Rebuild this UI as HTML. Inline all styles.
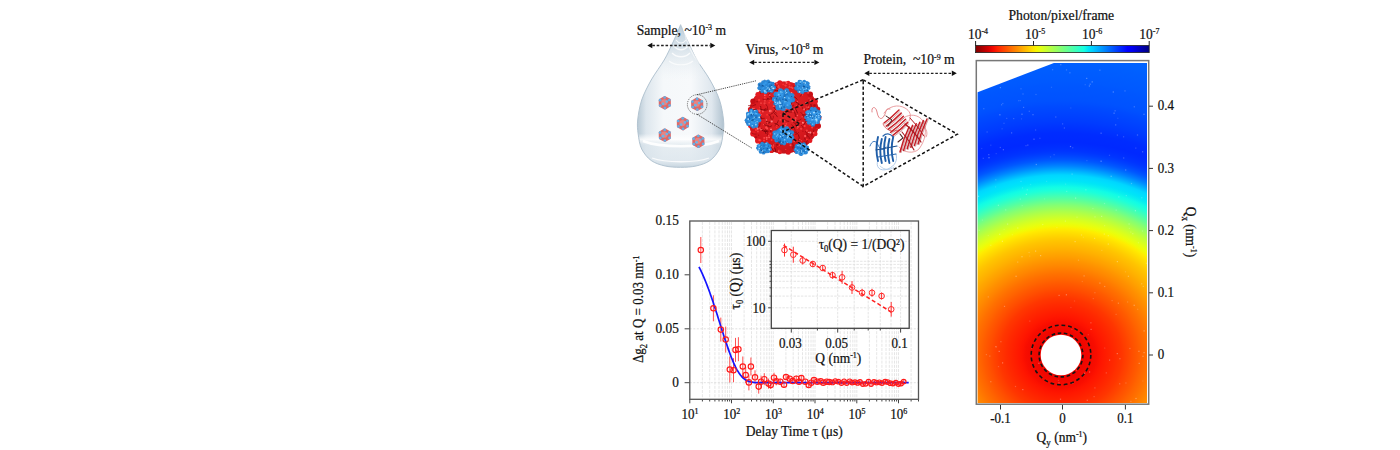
<!DOCTYPE html>
<html><head><meta charset="utf-8"><title>XPCS figure</title>
<style>html,body{margin:0;padding:0;background:#fff;}body{width:1400px;height:450px;overflow:hidden;}
svg{display:block;} text{font-family:"Liberation Serif", "Times New Roman", serif;fill:#111;stroke:#111;stroke-width:0.22px;}</style></head>
<body><svg width="1400" height="450" viewBox="0 0 1400 450">
<defs>
<linearGradient id="cbar" x1="0" y1="0" x2="1" y2="0"><stop offset="0.000" stop-color="#800000"/><stop offset="0.025" stop-color="#9c0000"/><stop offset="0.050" stop-color="#b90000"/><stop offset="0.075" stop-color="#d60000"/><stop offset="0.100" stop-color="#f30900"/><stop offset="0.125" stop-color="#ff2100"/><stop offset="0.150" stop-color="#ff3900"/><stop offset="0.175" stop-color="#ff5000"/><stop offset="0.200" stop-color="#ff6800"/><stop offset="0.225" stop-color="#ff8000"/><stop offset="0.250" stop-color="#ff9700"/><stop offset="0.275" stop-color="#ffaf00"/><stop offset="0.300" stop-color="#ffc600"/><stop offset="0.325" stop-color="#ffde00"/><stop offset="0.350" stop-color="#f7f600"/><stop offset="0.375" stop-color="#e2ff15"/><stop offset="0.400" stop-color="#ceff29"/><stop offset="0.425" stop-color="#b9ff3e"/><stop offset="0.450" stop-color="#a5ff52"/><stop offset="0.475" stop-color="#90ff67"/><stop offset="0.500" stop-color="#7bff7b"/><stop offset="0.525" stop-color="#67ff90"/><stop offset="0.550" stop-color="#52ffa5"/><stop offset="0.575" stop-color="#3effb9"/><stop offset="0.600" stop-color="#29ffce"/><stop offset="0.625" stop-color="#15ffe2"/><stop offset="0.650" stop-color="#00e5f7"/><stop offset="0.675" stop-color="#00ccff"/><stop offset="0.700" stop-color="#00b3ff"/><stop offset="0.725" stop-color="#0099ff"/><stop offset="0.750" stop-color="#0080ff"/><stop offset="0.775" stop-color="#0066ff"/><stop offset="0.800" stop-color="#004cff"/><stop offset="0.825" stop-color="#0033ff"/><stop offset="0.850" stop-color="#001aff"/><stop offset="0.875" stop-color="#0000ff"/><stop offset="0.900" stop-color="#0000f3"/><stop offset="0.925" stop-color="#0000d6"/><stop offset="0.950" stop-color="#0000b9"/><stop offset="0.975" stop-color="#00009c"/><stop offset="1.000" stop-color="#000080"/></linearGradient>
<radialGradient id="hmg" gradientUnits="userSpaceOnUse" cx="1061" cy="355" r="300.0" gradientTransform="translate(1061 355) scale(1.07 1) translate(-1061 -355)"><stop offset="0.0000" stop-color="#ee0500"/><stop offset="0.0100" stop-color="#ee0500"/><stop offset="0.0200" stop-color="#ee0500"/><stop offset="0.0300" stop-color="#ee0500"/><stop offset="0.0400" stop-color="#ee0500"/><stop offset="0.0500" stop-color="#ee0500"/><stop offset="0.0600" stop-color="#ee0500"/><stop offset="0.0700" stop-color="#ee0500"/><stop offset="0.0800" stop-color="#f00600"/><stop offset="0.0900" stop-color="#f20900"/><stop offset="0.1000" stop-color="#f50b00"/><stop offset="0.1100" stop-color="#f80d00"/><stop offset="0.1200" stop-color="#fd1200"/><stop offset="0.1300" stop-color="#ff1700"/><stop offset="0.1400" stop-color="#ff1c00"/><stop offset="0.1500" stop-color="#ff2100"/><stop offset="0.1600" stop-color="#ff2600"/><stop offset="0.1700" stop-color="#ff2b00"/><stop offset="0.1800" stop-color="#ff3100"/><stop offset="0.1900" stop-color="#ff3600"/><stop offset="0.2000" stop-color="#ff3e00"/><stop offset="0.2100" stop-color="#ff4500"/><stop offset="0.2200" stop-color="#ff4d00"/><stop offset="0.2300" stop-color="#ff5400"/><stop offset="0.2400" stop-color="#ff5b00"/><stop offset="0.2500" stop-color="#ff6300"/><stop offset="0.2600" stop-color="#ff6a00"/><stop offset="0.2700" stop-color="#ff7100"/><stop offset="0.2800" stop-color="#ff7900"/><stop offset="0.2900" stop-color="#ff8100"/><stop offset="0.3000" stop-color="#ff8900"/><stop offset="0.3100" stop-color="#ff9000"/><stop offset="0.3200" stop-color="#ff9800"/><stop offset="0.3300" stop-color="#ffa000"/><stop offset="0.3400" stop-color="#ffa700"/><stop offset="0.3500" stop-color="#ffaf00"/><stop offset="0.3600" stop-color="#ffb600"/><stop offset="0.3700" stop-color="#ffbd00"/><stop offset="0.3800" stop-color="#ffc400"/><stop offset="0.3900" stop-color="#ffcd00"/><stop offset="0.4000" stop-color="#ffd700"/><stop offset="0.4100" stop-color="#ffe100"/><stop offset="0.4200" stop-color="#ffec00"/><stop offset="0.4300" stop-color="#f3fa04"/><stop offset="0.4400" stop-color="#e6ff10"/><stop offset="0.4500" stop-color="#d9ff1e"/><stop offset="0.4600" stop-color="#caff2d"/><stop offset="0.4700" stop-color="#baff3d"/><stop offset="0.4800" stop-color="#a9ff4e"/><stop offset="0.4900" stop-color="#96ff61"/><stop offset="0.5000" stop-color="#84ff73"/><stop offset="0.5100" stop-color="#6eff89"/><stop offset="0.5200" stop-color="#58ff9e"/><stop offset="0.5300" stop-color="#44ffb3"/><stop offset="0.5400" stop-color="#30ffc7"/><stop offset="0.5500" stop-color="#1dffda"/><stop offset="0.5600" stop-color="#12fce5"/><stop offset="0.5700" stop-color="#08efef"/><stop offset="0.5800" stop-color="#00e5f7"/><stop offset="0.5900" stop-color="#00defd"/><stop offset="0.6000" stop-color="#00d6ff"/><stop offset="0.6100" stop-color="#00bbff"/><stop offset="0.6200" stop-color="#009fff"/><stop offset="0.6300" stop-color="#0084ff"/><stop offset="0.6400" stop-color="#006dff"/><stop offset="0.6500" stop-color="#0058ff"/><stop offset="0.6600" stop-color="#004aff"/><stop offset="0.6700" stop-color="#003eff"/><stop offset="0.6800" stop-color="#0035ff"/><stop offset="0.6900" stop-color="#0030ff"/><stop offset="0.7000" stop-color="#002cff"/><stop offset="0.7100" stop-color="#0029ff"/><stop offset="0.7200" stop-color="#002aff"/><stop offset="0.7300" stop-color="#002bff"/><stop offset="0.7400" stop-color="#002cff"/><stop offset="0.7500" stop-color="#0030ff"/><stop offset="0.7600" stop-color="#0034ff"/><stop offset="0.7700" stop-color="#0038ff"/><stop offset="0.7800" stop-color="#003cff"/><stop offset="0.7900" stop-color="#003fff"/><stop offset="0.8000" stop-color="#0042ff"/><stop offset="0.8100" stop-color="#0045ff"/><stop offset="0.8200" stop-color="#0048ff"/><stop offset="0.8300" stop-color="#004bff"/><stop offset="0.8400" stop-color="#004fff"/><stop offset="0.8500" stop-color="#0052ff"/><stop offset="0.8600" stop-color="#0053ff"/><stop offset="0.8700" stop-color="#0054ff"/><stop offset="0.8800" stop-color="#0055ff"/><stop offset="0.8900" stop-color="#0056ff"/><stop offset="0.9000" stop-color="#0057ff"/><stop offset="0.9100" stop-color="#0059ff"/><stop offset="0.9200" stop-color="#005aff"/><stop offset="0.9300" stop-color="#005bff"/><stop offset="0.9400" stop-color="#005cff"/><stop offset="0.9500" stop-color="#005dff"/><stop offset="0.9600" stop-color="#005eff"/><stop offset="0.9700" stop-color="#005fff"/><stop offset="0.9800" stop-color="#0061ff"/><stop offset="0.9900" stop-color="#0062ff"/><stop offset="1.0000" stop-color="#0063ff"/></radialGradient>
<clipPath id="hmclip"><polygon points="977.6,92.2 1053.9,63 1147,63 1147,403 977.6,403"/></clipPath>
<linearGradient id="drop" x1="0" y1="0" x2="1" y2="0">
 <stop offset="0" stop-color="#b8c9d5"/><stop offset="0.1" stop-color="#dde6ed"/>
 <stop offset="0.3" stop-color="#f5f8fa"/><stop offset="0.62" stop-color="#f7f9fb"/>
 <stop offset="0.86" stop-color="#dfe7ee"/><stop offset="1" stop-color="#b1c3d0"/>
</linearGradient>
<linearGradient id="dropt" gradientUnits="userSpaceOnUse" x1="0" y1="25" x2="0" y2="80">
 <stop offset="0" stop-color="#b4c8d6" stop-opacity="0.9"/><stop offset="0.45" stop-color="#c9d8e2" stop-opacity="0.6"/>
 <stop offset="1" stop-color="#e8eef2" stop-opacity="0"/>
</linearGradient>
<linearGradient id="dropv" gradientUnits="userSpaceOnUse" x1="0" y1="25" x2="0" y2="168">
 <stop offset="0" stop-color="#ffffff" stop-opacity="0"/><stop offset="0.76" stop-color="#ffffff" stop-opacity="0"/>
 <stop offset="0.8" stop-color="#ffffff" stop-opacity="0.8"/><stop offset="0.84" stop-color="#dbe5ec" stop-opacity="0.6"/>
 <stop offset="0.95" stop-color="#d7e2ea" stop-opacity="0.7"/><stop offset="1" stop-color="#c3d2dd" stop-opacity="1"/>
</linearGradient>
<radialGradient id="vir" cx="0.45" cy="0.4" r="0.6">
 <stop offset="0" stop-color="#e83a3a"/><stop offset="0.7" stop-color="#d41f22"/><stop offset="1" stop-color="#b0141a"/>
</radialGradient>
<radialGradient id="vblue" cx="0.4" cy="0.35" r="0.65">
 <stop offset="0" stop-color="#5fb0ea"/><stop offset="0.6" stop-color="#2f86cf"/><stop offset="1" stop-color="#1f66ad"/>
</radialGradient>
<marker id="ah" viewBox="0 0 10 10" refX="9" refY="5" markerWidth="5" markerHeight="5" orient="auto-start-reverse" markerUnits="userSpaceOnUse"><path d="M0,0 L10,5 L0,10 z" fill="#111"/></marker>
</defs>
<path d="M680.6,24.7 C680.6,24.7 683.0,30.6 684.5,34.0 C686.0,37.4 687.4,40.7 689.5,45.0 C691.6,49.3 693.6,54.2 697.0,60.0 C700.4,65.8 706.2,73.3 710.0,80.0 C713.8,86.7 717.2,93.3 719.5,100.0 C721.8,106.7 722.9,114.3 723.5,120.0 C724.1,125.7 723.7,129.2 723.0,134.0 C722.3,138.8 721.7,144.6 719.5,149.0 C717.3,153.4 713.9,157.7 710.0,160.5 C706.1,163.3 700.9,164.9 696.0,166.0 C691.1,167.1 685.7,167.3 680.6,167.3 C675.5,167.3 670.1,167.1 665.2,166.0 C660.3,164.9 655.1,163.3 651.2,160.5 C647.3,157.7 643.9,153.4 641.7,149.0 C639.5,144.6 638.9,138.8 638.2,134.0 C637.5,129.2 637.1,125.7 637.7,120.0 C638.3,114.3 639.5,106.7 641.7,100.0 C644.0,93.3 647.5,86.7 651.2,80.0 C655.0,73.3 660.8,65.8 664.2,60.0 C667.6,54.2 669.6,49.3 671.7,45.0 C673.8,40.7 675.2,37.4 676.7,34.0 C678.2,30.6 680.6,24.7 680.6,24.7 Z" fill="url(#drop)"/>
<path d="M680.6,24.7 C680.6,24.7 683.0,30.6 684.5,34.0 C686.0,37.4 687.4,40.7 689.5,45.0 C691.6,49.3 693.6,54.2 697.0,60.0 C700.4,65.8 706.2,73.3 710.0,80.0 C713.8,86.7 717.2,93.3 719.5,100.0 C721.8,106.7 722.9,114.3 723.5,120.0 C724.1,125.7 723.7,129.2 723.0,134.0 C722.3,138.8 721.7,144.6 719.5,149.0 C717.3,153.4 713.9,157.7 710.0,160.5 C706.1,163.3 700.9,164.9 696.0,166.0 C691.1,167.1 685.7,167.3 680.6,167.3 C675.5,167.3 670.1,167.1 665.2,166.0 C660.3,164.9 655.1,163.3 651.2,160.5 C647.3,157.7 643.9,153.4 641.7,149.0 C639.5,144.6 638.9,138.8 638.2,134.0 C637.5,129.2 637.1,125.7 637.7,120.0 C638.3,114.3 639.5,106.7 641.7,100.0 C644.0,93.3 647.5,86.7 651.2,80.0 C655.0,73.3 660.8,65.8 664.2,60.0 C667.6,54.2 669.6,49.3 671.7,45.0 C673.8,40.7 675.2,37.4 676.7,34.0 C678.2,30.6 680.6,24.7 680.6,24.7 Z" fill="url(#dropt)"/>
<path d="M680.6,24.7 C680.6,24.7 683.0,30.6 684.5,34.0 C686.0,37.4 687.4,40.7 689.5,45.0 C691.6,49.3 693.6,54.2 697.0,60.0 C700.4,65.8 706.2,73.3 710.0,80.0 C713.8,86.7 717.2,93.3 719.5,100.0 C721.8,106.7 722.9,114.3 723.5,120.0 C724.1,125.7 723.7,129.2 723.0,134.0 C722.3,138.8 721.7,144.6 719.5,149.0 C717.3,153.4 713.9,157.7 710.0,160.5 C706.1,163.3 700.9,164.9 696.0,166.0 C691.1,167.1 685.7,167.3 680.6,167.3 C675.5,167.3 670.1,167.1 665.2,166.0 C660.3,164.9 655.1,163.3 651.2,160.5 C647.3,157.7 643.9,153.4 641.7,149.0 C639.5,144.6 638.9,138.8 638.2,134.0 C637.5,129.2 637.1,125.7 637.7,120.0 C638.3,114.3 639.5,106.7 641.7,100.0 C644.0,93.3 647.5,86.7 651.2,80.0 C655.0,73.3 660.8,65.8 664.2,60.0 C667.6,54.2 669.6,49.3 671.7,45.0 C673.8,40.7 675.2,37.4 676.7,34.0 C678.2,30.6 680.6,24.7 680.6,24.7 Z" fill="url(#dropv)"/>
<path d="M680.6,24.7 C680.6,24.7 683.0,30.6 684.5,34.0 C686.0,37.4 687.4,40.7 689.5,45.0 C691.6,49.3 693.6,54.2 697.0,60.0 C700.4,65.8 706.2,73.3 710.0,80.0 C713.8,86.7 717.2,93.3 719.5,100.0 C721.8,106.7 722.9,114.3 723.5,120.0 C724.1,125.7 723.7,129.2 723.0,134.0 C722.3,138.8 721.7,144.6 719.5,149.0 C717.3,153.4 713.9,157.7 710.0,160.5 C706.1,163.3 700.9,164.9 696.0,166.0 C691.1,167.1 685.7,167.3 680.6,167.3 C675.5,167.3 670.1,167.1 665.2,166.0 C660.3,164.9 655.1,163.3 651.2,160.5 C647.3,157.7 643.9,153.4 641.7,149.0 C639.5,144.6 638.9,138.8 638.2,134.0 C637.5,129.2 637.1,125.7 637.7,120.0 C638.3,114.3 639.5,106.7 641.7,100.0 C644.0,93.3 647.5,86.7 651.2,80.0 C655.0,73.3 660.8,65.8 664.2,60.0 C667.6,54.2 669.6,49.3 671.7,45.0 C673.8,40.7 675.2,37.4 676.7,34.0 C678.2,30.6 680.6,24.7 680.6,24.7 Z" fill="none" stroke="#b3c4d1" stroke-width="1"/>
<path d="M676,40 C679,44 683,44 686,40" fill="none" stroke="#ffffff" stroke-width="1.2" opacity="0.8"/>
<path d="M674,46 C678,51 684,51 688,46" fill="none" stroke="#ffffff" stroke-width="1.3" opacity="0.8"/>
<path d="M672,53 C677,58 685,58 690,53" fill="none" stroke="#ffffff" stroke-width="1.3" opacity="0.8"/>
<path d="M669,61 C675,66 687,66 693,61" fill="none" stroke="#ffffff" stroke-width="1.2" opacity="0.7"/>
<path d="M684,30 C686,40 690,52 700,64" fill="none" stroke="#ffffff" stroke-width="1.5" opacity="0.6"/>
<path d="M643,141 C660,148 702,148 719,141" fill="none" stroke="#ffffff" stroke-width="2.5" opacity="0.9"/>
<path d="M652,158 C665,163 697,163 709,158" fill="none" stroke="#ffffff" stroke-width="1.3" opacity="0.8"/>
<polygon points="669.7,105.5 664.9,108.4 660.0,105.7 659.9,100.1 664.7,97.2 669.6,99.9" fill="#dc6a6a" stroke="#dc6a6a" stroke-width="2.4" stroke-linejoin="round"/>
<circle cx="664.3" cy="102.3" r="3.1" fill="#e88482"/>
<circle cx="669.5" cy="105.4" r="1.35" fill="#62b0e8"/>
<circle cx="664.9" cy="108.1" r="1.35" fill="#62b0e8"/>
<circle cx="660.3" cy="105.6" r="1.35" fill="#62b0e8"/>
<circle cx="660.1" cy="100.2" r="1.35" fill="#62b0e8"/>
<circle cx="664.7" cy="97.5" r="1.35" fill="#62b0e8"/>
<circle cx="669.3" cy="100.0" r="1.35" fill="#62b0e8"/>
<circle cx="663.0" cy="103.8" r="1.4" fill="#6ab5ea"/>
<circle cx="666.8" cy="101.6" r="1.3" fill="#6ab5ea"/>
<polygon points="702.1,106.9 697.3,109.8 692.4,107.1 692.3,101.5 697.1,98.6 702.0,101.3" fill="#dc6a6a" stroke="#dc6a6a" stroke-width="2.4" stroke-linejoin="round"/>
<circle cx="696.7" cy="103.7" r="3.1" fill="#e88482"/>
<circle cx="701.9" cy="106.8" r="1.35" fill="#62b0e8"/>
<circle cx="697.3" cy="109.5" r="1.35" fill="#62b0e8"/>
<circle cx="692.7" cy="107.0" r="1.35" fill="#62b0e8"/>
<circle cx="692.5" cy="101.6" r="1.35" fill="#62b0e8"/>
<circle cx="697.1" cy="98.9" r="1.35" fill="#62b0e8"/>
<circle cx="701.7" cy="101.4" r="1.35" fill="#62b0e8"/>
<circle cx="695.4000000000001" cy="105.2" r="1.4" fill="#6ab5ea"/>
<circle cx="699.2" cy="103.0" r="1.3" fill="#6ab5ea"/>
<polygon points="687.8,126.3 683.0,129.2 678.1,126.5 678.0,120.9 682.8,118.0 687.7,120.7" fill="#dc6a6a" stroke="#dc6a6a" stroke-width="2.4" stroke-linejoin="round"/>
<circle cx="682.4" cy="123.1" r="3.1" fill="#e88482"/>
<circle cx="687.6" cy="126.2" r="1.35" fill="#62b0e8"/>
<circle cx="683.0" cy="128.9" r="1.35" fill="#62b0e8"/>
<circle cx="678.4" cy="126.4" r="1.35" fill="#62b0e8"/>
<circle cx="678.2" cy="121.0" r="1.35" fill="#62b0e8"/>
<circle cx="682.8" cy="118.3" r="1.35" fill="#62b0e8"/>
<circle cx="687.4" cy="120.8" r="1.35" fill="#62b0e8"/>
<circle cx="681.1" cy="124.6" r="1.4" fill="#6ab5ea"/>
<circle cx="684.9" cy="122.39999999999999" r="1.3" fill="#6ab5ea"/>
<polygon points="669.7,137.9 664.9,140.8 660.0,138.1 659.9,132.5 664.7,129.6 669.6,132.3" fill="#dc6a6a" stroke="#dc6a6a" stroke-width="2.4" stroke-linejoin="round"/>
<circle cx="664.3" cy="134.7" r="3.1" fill="#e88482"/>
<circle cx="669.5" cy="137.8" r="1.35" fill="#62b0e8"/>
<circle cx="664.9" cy="140.5" r="1.35" fill="#62b0e8"/>
<circle cx="660.3" cy="138.0" r="1.35" fill="#62b0e8"/>
<circle cx="660.1" cy="132.6" r="1.35" fill="#62b0e8"/>
<circle cx="664.7" cy="129.9" r="1.35" fill="#62b0e8"/>
<circle cx="669.3" cy="132.4" r="1.35" fill="#62b0e8"/>
<circle cx="663.0" cy="136.2" r="1.4" fill="#6ab5ea"/>
<circle cx="666.8" cy="134.0" r="1.3" fill="#6ab5ea"/>
<polygon points="703.3,144.0 698.5,146.9 693.6,144.2 693.5,138.6 698.3,135.7 703.2,138.4" fill="#dc6a6a" stroke="#dc6a6a" stroke-width="2.4" stroke-linejoin="round"/>
<circle cx="697.9" cy="140.8" r="3.1" fill="#e88482"/>
<circle cx="703.1" cy="143.9" r="1.35" fill="#62b0e8"/>
<circle cx="698.5" cy="146.6" r="1.35" fill="#62b0e8"/>
<circle cx="693.9" cy="144.1" r="1.35" fill="#62b0e8"/>
<circle cx="693.7" cy="138.7" r="1.35" fill="#62b0e8"/>
<circle cx="698.3" cy="136.0" r="1.35" fill="#62b0e8"/>
<circle cx="702.9" cy="138.5" r="1.35" fill="#62b0e8"/>
<circle cx="696.6" cy="142.3" r="1.4" fill="#6ab5ea"/>
<circle cx="700.4" cy="140.10000000000002" r="1.3" fill="#6ab5ea"/>
<circle cx="697.2" cy="104.5" r="9.8" fill="none" stroke="#555" stroke-width="0.9" stroke-dasharray="1.1,1.1"/>
<line x1="697" y1="94.7" x2="756.4" y2="80.7" stroke="#333" stroke-width="0.9" stroke-dasharray="1.2,1"/>
<line x1="697" y1="114.3" x2="752" y2="148.2" stroke="#333" stroke-width="0.9" stroke-dasharray="1.2,1"/>
<text x="636.7" y="34.8" transform="matrix(1 0 0 1.1 0 -3.48)" font-size="13.65">Sample, ~10<tspan dy="-4.3" font-size="8">-3</tspan><tspan dy="4.3"> m</tspan></text>
<line x1="652.3" y1="45.5" x2="710.3" y2="45.5" stroke="#222" stroke-width="1.3" stroke-dasharray="2.6,1.8"/>
<path d="M647.3,45.5 L652.3,42.8 L652.3,48.2 z" fill="#111"/>
<path d="M715.3,45.5 L710.3,42.8 L710.3,48.2 z" fill="#111"/>
<circle cx="784" cy="117.5" r="36" fill="#dc121a"/>
<circle cx="784" cy="117.5" r="36" fill="url(#vir)" opacity="0.5"/>
<circle cx="819.0" cy="117.5" r="2.5" fill="#e41c22"/>
<circle cx="818.0" cy="125.9" r="3.0" fill="#c80f16"/>
<circle cx="815.0" cy="133.8" r="2.5" fill="#e41c22"/>
<circle cx="810.2" cy="140.7" r="2.2" fill="#e41c22"/>
<circle cx="803.9" cy="146.3" r="2.6" fill="#e41c22"/>
<circle cx="796.4" cy="150.2" r="3.0" fill="#d8121a"/>
<circle cx="788.2" cy="152.2" r="2.5" fill="#d8121a"/>
<circle cx="779.8" cy="152.2" r="2.1" fill="#e41c22"/>
<circle cx="771.6" cy="150.2" r="2.8" fill="#e41c22"/>
<circle cx="764.1" cy="146.3" r="3.2" fill="#c80f16"/>
<circle cx="757.8" cy="140.7" r="2.8" fill="#e41c22"/>
<circle cx="753.0" cy="133.8" r="2.8" fill="#e41c22"/>
<circle cx="750.0" cy="125.9" r="2.0" fill="#e41c22"/>
<circle cx="749.0" cy="117.5" r="2.1" fill="#d8121a"/>
<circle cx="750.0" cy="109.1" r="2.2" fill="#d8121a"/>
<circle cx="753.0" cy="101.2" r="2.7" fill="#c80f16"/>
<circle cx="757.8" cy="94.3" r="2.4" fill="#e41c22"/>
<circle cx="764.1" cy="88.7" r="3.0" fill="#e41c22"/>
<circle cx="771.6" cy="84.8" r="2.3" fill="#c80f16"/>
<circle cx="779.8" cy="82.8" r="2.6" fill="#e41c22"/>
<circle cx="788.2" cy="82.8" r="2.1" fill="#e41c22"/>
<circle cx="796.4" cy="84.8" r="2.3" fill="#e41c22"/>
<circle cx="803.9" cy="88.7" r="3.2" fill="#d8121a"/>
<circle cx="810.2" cy="94.3" r="2.8" fill="#c80f16"/>
<circle cx="815.0" cy="101.2" r="2.9" fill="#e41c22"/>
<circle cx="818.0" cy="109.1" r="2.3" fill="#d8121a"/>
<path d="M774.0,113.3 q2.4,0.9 3.5,3.8" stroke="#8c070c" stroke-width="0.8" fill="none"/>
<path d="M813.3,109.6 q2.4,0.0 4.2,2.3" stroke="#8c070c" stroke-width="0.8" fill="none"/>
<path d="M751.9,123.6 q0.7,2.0 -0.8,4.2" stroke="#7a050a" stroke-width="0.8" fill="none"/>
<path d="M792.6,143.2 q1.3,2.3 0.1,5.2" stroke="#8c070c" stroke-width="0.8" fill="none"/>
<path d="M812.0,111.1 q2.3,0.9 3.2,3.8" stroke="#8c070c" stroke-width="0.8" fill="none"/>
<path d="M806.4,119.0 q0.1,3.4 -3.0,6.0" stroke="#8c070c" stroke-width="0.8" fill="none"/>
<path d="M770.4,122.2 q-1.5,1.7 -4.3,1.5" stroke="#7a050a" stroke-width="0.8" fill="none"/>
<path d="M768.6,131.3 q-2.0,0.1 -3.6,-1.8" stroke="#7a050a" stroke-width="0.8" fill="none"/>
<path d="M773.6,146.8 q2.2,1.7 2.2,5.1" stroke="#7a050a" stroke-width="0.8" fill="none"/>
<path d="M777.4,109.4 q-2.4,0.1 -4.3,-2.2" stroke="#a0090f" stroke-width="0.8" fill="none"/>
<path d="M809.7,119.1 q-2.4,1.4 -5.5,0.2" stroke="#8c070c" stroke-width="0.8" fill="none"/>
<path d="M805.3,131.0 q2.3,2.2 1.9,6.1" stroke="#a0090f" stroke-width="0.8" fill="none"/>
<path d="M775.5,109.3 q-1.0,3.5 -5.1,5.2" stroke="#8c070c" stroke-width="0.8" fill="none"/>
<path d="M793.4,107.0 q3.4,1.8 4.2,6.4" stroke="#7a050a" stroke-width="0.8" fill="none"/>
<path d="M784.0,131.9 q-2.7,2.8 -7.4,2.4" stroke="#8c070c" stroke-width="0.8" fill="none"/>
<path d="M776.1,98.5 q0.1,2.2 -1.9,3.9" stroke="#8c070c" stroke-width="0.8" fill="none"/>
<path d="M789.2,121.4 q-2.5,0.3 -4.6,-1.9" stroke="#7a050a" stroke-width="0.8" fill="none"/>
<path d="M767.4,131.0 q-2.8,0.9 -5.8,-1.2" stroke="#7a050a" stroke-width="0.8" fill="none"/>
<path d="M796.6,142.5 q2.4,0.5 3.7,3.2" stroke="#7a050a" stroke-width="0.8" fill="none"/>
<path d="M769.2,96.2 q2.4,0.6 3.6,3.2" stroke="#8c070c" stroke-width="0.8" fill="none"/>
<path d="M783.9,108.8 q0.7,2.4 -1.1,4.9" stroke="#8c070c" stroke-width="0.8" fill="none"/>
<path d="M793.0,135.4 q-0.5,2.2 -3.0,3.4" stroke="#a0090f" stroke-width="0.8" fill="none"/>
<path d="M798.3,134.4 q1.8,3.0 0.2,6.9" stroke="#7a050a" stroke-width="0.8" fill="none"/>
<path d="M773.3,111.2 q2.0,0.2 3.3,2.3" stroke="#a0090f" stroke-width="0.8" fill="none"/>
<path d="M774.2,86.6 q3.3,0.2 5.5,3.5" stroke="#a0090f" stroke-width="0.8" fill="none"/>
<path d="M800.8,125.0 q2.0,0.9 2.6,3.4" stroke="#a0090f" stroke-width="0.8" fill="none"/>
<path d="M756.8,109.4 q-3.3,1.1 -6.8,-1.3" stroke="#7a050a" stroke-width="0.8" fill="none"/>
<path d="M806.2,141.0 q1.0,1.9 -0.0,4.3" stroke="#a0090f" stroke-width="0.8" fill="none"/>
<path d="M809.0,99.5 q0.9,3.5 -1.7,7.0" stroke="#a0090f" stroke-width="0.8" fill="none"/>
<path d="M760.6,106.0 q1.1,3.0 -0.8,6.3" stroke="#7a050a" stroke-width="0.8" fill="none"/>
<path d="M792.9,121.9 q2.4,0.9 3.3,3.8" stroke="#a0090f" stroke-width="0.8" fill="none"/>
<path d="M781.2,97.1 q-2.1,2.3 -6.0,2.1" stroke="#a0090f" stroke-width="0.8" fill="none"/>
<path d="M760.4,123.1 q-0.2,3.0 -3.2,5.1" stroke="#a0090f" stroke-width="0.8" fill="none"/>
<path d="M765.6,103.9 q2.5,2.2 2.3,6.4" stroke="#a0090f" stroke-width="0.8" fill="none"/>
<path d="M789.0,91.2 q0.2,3.8 -3.3,6.8" stroke="#a0090f" stroke-width="0.8" fill="none"/>
<path d="M775.4,143.3 q1.9,1.4 2.0,4.2" stroke="#a0090f" stroke-width="0.8" fill="none"/>
<path d="M772.2,99.0 q-2.5,0.9 -5.2,-0.8" stroke="#7a050a" stroke-width="0.8" fill="none"/>
<path d="M783.9,143.8 q-2.9,2.0 -7.0,0.8" stroke="#8c070c" stroke-width="0.8" fill="none"/>
<path d="M798.9,103.5 q-0.7,2.5 -3.6,3.8" stroke="#8c070c" stroke-width="0.8" fill="none"/>
<path d="M797.0,132.1 q-2.0,0.7 -4.1,-0.7" stroke="#8c070c" stroke-width="0.8" fill="none"/>
<path d="M800.5,112.1 q2.5,1.5 3.0,5.0" stroke="#a0090f" stroke-width="0.8" fill="none"/>
<path d="M810.9,104.0 q1.1,2.8 -0.8,6.0" stroke="#7a050a" stroke-width="0.8" fill="none"/>
<path d="M771.9,145.2 q-2.9,0.2 -5.2,-2.5" stroke="#8c070c" stroke-width="0.8" fill="none"/>
<path d="M792.3,102.2 q-1.1,3.2 -5.0,4.5" stroke="#a0090f" stroke-width="0.8" fill="none"/>
<path d="M767.4,109.6 q-1.6,1.2 -4.0,0.6" stroke="#8c070c" stroke-width="0.8" fill="none"/>
<path d="M772.1,125.6 q-1.9,1.7 -4.9,1.1" stroke="#8c070c" stroke-width="0.8" fill="none"/>
<path d="M793.5,86.2 q2.1,0.8 2.9,3.4" stroke="#7a050a" stroke-width="0.8" fill="none"/>
<path d="M767.3,93.0 q-3.3,0.4 -6.3,-2.4" stroke="#8c070c" stroke-width="0.8" fill="none"/>
<path d="M791.5,102.6 q-2.2,2.7 -6.5,2.7" stroke="#7a050a" stroke-width="0.8" fill="none"/>
<path d="M780.9,103.9 q1.8,2.0 1.1,5.3" stroke="#7a050a" stroke-width="0.8" fill="none"/>
<path d="M806.1,109.8 q-2.3,0.0 -4.1,-2.2" stroke="#7a050a" stroke-width="0.8" fill="none"/>
<path d="M792.1,112.1 q-3.4,0.7 -6.6,-2.0" stroke="#8c070c" stroke-width="0.8" fill="none"/>
<path d="M770.1,122.0 q-1.9,0.7 -4.0,-0.6" stroke="#7a050a" stroke-width="0.8" fill="none"/>
<path d="M755.9,104.5 q-3.1,2.3 -7.7,1.1" stroke="#a0090f" stroke-width="0.8" fill="none"/>
<path d="M768.9,146.5 q3.6,1.1 5.1,5.4" stroke="#7a050a" stroke-width="0.8" fill="none"/>
<path d="M794.3,112.2 q2.0,1.9 1.7,5.3" stroke="#8c070c" stroke-width="0.8" fill="none"/>
<path d="M807.9,114.1 q-2.1,1.6 -5.2,0.8" stroke="#7a050a" stroke-width="0.8" fill="none"/>
<path d="M796.0,102.2 q2.8,0.7 4.2,4.0" stroke="#7a050a" stroke-width="0.8" fill="none"/>
<path d="M768.8,125.7 q-2.4,0.6 -4.7,-1.2" stroke="#8c070c" stroke-width="0.8" fill="none"/>
<path d="M778.4,120.2 q-0.4,3.4 -3.8,5.6" stroke="#8c070c" stroke-width="0.8" fill="none"/>
<path d="M751.6,123.6 q-2.9,0.9 -6.0,-1.1" stroke="#7a050a" stroke-width="0.8" fill="none"/>
<path d="M772.1,87.7 q0.1,3.9 -3.6,6.9" stroke="#8c070c" stroke-width="0.8" fill="none"/>
<path d="M785.1,95.7 q-0.7,3.6 -4.6,5.7" stroke="#7a050a" stroke-width="0.8" fill="none"/>
<path d="M768.7,99.2 q-2.8,1.5 -6.2,-0.1" stroke="#a0090f" stroke-width="0.8" fill="none"/>
<path d="M768.7,89.1 q-3.0,1.3 -6.4,-0.6" stroke="#a0090f" stroke-width="0.8" fill="none"/>
<path d="M803.2,91.3 q-0.2,3.1 -3.4,5.3" stroke="#8c070c" stroke-width="0.8" fill="none"/>
<path d="M774.5,123.4 q2.8,0.0 4.8,2.7" stroke="#7a050a" stroke-width="0.8" fill="none"/>
<path d="M807.3,113.0 q1.1,3.4 -1.3,7.1" stroke="#7a050a" stroke-width="0.8" fill="none"/>
<path d="M791.3,124.5 q3.3,1.9 4.0,6.6" stroke="#a0090f" stroke-width="0.8" fill="none"/>
<path d="M756.3,134.1 q-2.5,0.6 -4.9,-1.3" stroke="#a0090f" stroke-width="0.8" fill="none"/>
<path d="M764.8,118.3 q-3.7,1.2 -7.6,-1.5" stroke="#a0090f" stroke-width="0.8" fill="none"/>
<path d="M773.3,115.8 q0.5,2.0 -1.0,4.0" stroke="#a0090f" stroke-width="0.8" fill="none"/>
<path d="M804.0,138.7 q2.4,0.2 4.0,2.6" stroke="#8c070c" stroke-width="0.8" fill="none"/>
<path d="M801.5,118.8 q-1.6,1.9 -4.6,1.8" stroke="#a0090f" stroke-width="0.8" fill="none"/>
<path d="M806.3,134.8 q2.8,1.1 3.8,4.7" stroke="#a0090f" stroke-width="0.8" fill="none"/>
<path d="M778.4,90.4 q-1.9,0.8 -4.1,-0.5" stroke="#7a050a" stroke-width="0.8" fill="none"/>
<path d="M763.5,129.9 q2.1,1.2 2.6,4.1" stroke="#7a050a" stroke-width="0.8" fill="none"/>
<path d="M768.9,114.2 q2.4,1.9 2.4,5.7" stroke="#7a050a" stroke-width="0.8" fill="none"/>
<path d="M793.9,105.0 q-2.5,2.6 -6.9,2.2" stroke="#8c070c" stroke-width="0.8" fill="none"/>
<path d="M776.6,134.5 q-2.4,0.6 -4.7,-1.2" stroke="#8c070c" stroke-width="0.8" fill="none"/>
<path d="M793.2,109.7 q2.5,2.4 2.2,6.6" stroke="#a0090f" stroke-width="0.8" fill="none"/>
<path d="M767.4,131.6 q-3.0,0.6 -5.9,-1.9" stroke="#7a050a" stroke-width="0.8" fill="none"/>
<path d="M798.7,132.4 q-1.1,1.7 -3.6,1.9" stroke="#8c070c" stroke-width="0.8" fill="none"/>
<path d="M766.1,109.1 q-2.3,1.5 -5.4,0.3" stroke="#7a050a" stroke-width="0.8" fill="none"/>
<path d="M755.3,116.5 q-0.0,3.4 -3.3,5.9" stroke="#8c070c" stroke-width="0.8" fill="none"/>
<path d="M791.5,95.8 q3.5,0.3 5.9,3.8" stroke="#7a050a" stroke-width="0.8" fill="none"/>
<path d="M759.2,115.2 q2.1,1.1 2.7,3.9" stroke="#8c070c" stroke-width="0.8" fill="none"/>
<path d="M790.1,129.1 q2.1,2.6 1.2,6.6" stroke="#7a050a" stroke-width="0.8" fill="none"/>
<path d="M813.8,129.7 q0.4,3.5 -2.6,6.6" stroke="#a0090f" stroke-width="0.8" fill="none"/>
<path d="M767.3,131.1 q1.1,2.2 -0.2,4.8" stroke="#a0090f" stroke-width="0.8" fill="none"/>
<circle cx="813.2" cy="119.9" r="0.6" fill="#ff5c5c"/>
<circle cx="755.2" cy="126.1" r="1.1" fill="#f24040"/>
<circle cx="775.5" cy="110.9" r="0.7" fill="#ff4a4a"/>
<circle cx="811.7" cy="133.8" r="1.2" fill="#b00c12"/>
<circle cx="770.1" cy="111.0" r="1.2" fill="#ff8080"/>
<circle cx="790.0" cy="100.8" r="1.0" fill="#ff4a4a"/>
<circle cx="789.5" cy="86.4" r="0.6" fill="#f24040"/>
<circle cx="771.6" cy="140.0" r="1.0" fill="#ff3030"/>
<circle cx="786.1" cy="95.3" r="0.6" fill="#b00c12"/>
<circle cx="789.6" cy="99.1" r="0.5" fill="#ff4a4a"/>
<circle cx="766.8" cy="139.5" r="0.5" fill="#ff8080"/>
<circle cx="779.1" cy="151.5" r="0.7" fill="#ff3030"/>
<circle cx="769.8" cy="95.2" r="0.6" fill="#ff8080"/>
<circle cx="759.4" cy="115.2" r="1.0" fill="#ff5c5c"/>
<circle cx="786.6" cy="82.9" r="0.6" fill="#ff4a4a"/>
<circle cx="797.3" cy="128.2" r="0.8" fill="#f24040"/>
<circle cx="798.7" cy="122.3" r="0.5" fill="#f24040"/>
<circle cx="783.0" cy="135.9" r="0.9" fill="#ff3030"/>
<circle cx="749.6" cy="115.8" r="1.1" fill="#ff8080"/>
<circle cx="802.9" cy="131.2" r="0.6" fill="#b00c12"/>
<circle cx="759.1" cy="100.0" r="0.8" fill="#ff4a4a"/>
<circle cx="804.1" cy="109.3" r="1.1" fill="#ff5c5c"/>
<circle cx="757.9" cy="110.5" r="1.2" fill="#f24040"/>
<circle cx="761.7" cy="129.6" r="0.7" fill="#ff8080"/>
<circle cx="760.1" cy="112.9" r="0.9" fill="#ff3030"/>
<circle cx="777.8" cy="146.5" r="0.5" fill="#ff3030"/>
<circle cx="787.8" cy="91.0" r="0.6" fill="#b00c12"/>
<circle cx="784.6" cy="95.7" r="1.0" fill="#ff3030"/>
<circle cx="817.1" cy="128.3" r="0.6" fill="#ff3030"/>
<circle cx="803.0" cy="104.7" r="0.7" fill="#f24040"/>
<circle cx="784.3" cy="110.0" r="1.2" fill="#ff4a4a"/>
<circle cx="779.9" cy="93.9" r="0.9" fill="#ff5c5c"/>
<circle cx="804.7" cy="135.8" r="0.6" fill="#f24040"/>
<circle cx="797.4" cy="101.5" r="0.6" fill="#ff5c5c"/>
<circle cx="757.2" cy="127.5" r="0.9" fill="#f24040"/>
<circle cx="765.5" cy="95.3" r="1.0" fill="#ff3030"/>
<circle cx="749.7" cy="110.8" r="1.0" fill="#ff3030"/>
<circle cx="784.9" cy="129.3" r="1.0" fill="#ff3030"/>
<circle cx="769.2" cy="102.7" r="0.9" fill="#ff3030"/>
<circle cx="779.4" cy="88.6" r="0.9" fill="#ff5c5c"/>
<circle cx="784.3" cy="102.3" r="0.9" fill="#ff5c5c"/>
<circle cx="775.1" cy="104.8" r="0.5" fill="#b00c12"/>
<circle cx="800.9" cy="124.3" r="0.5" fill="#f24040"/>
<circle cx="800.0" cy="121.4" r="0.6" fill="#ff3030"/>
<circle cx="808.6" cy="132.4" r="0.7" fill="#ff8080"/>
<circle cx="808.2" cy="114.7" r="0.6" fill="#ff3030"/>
<circle cx="767.2" cy="142.6" r="1.1" fill="#ff4a4a"/>
<circle cx="754.0" cy="127.8" r="0.8" fill="#ff5c5c"/>
<circle cx="783.6" cy="95.6" r="0.8" fill="#ff5c5c"/>
<circle cx="764.2" cy="88.9" r="0.7" fill="#ff3030"/>
<circle cx="785.8" cy="85.7" r="0.8" fill="#ff5c5c"/>
<circle cx="776.6" cy="125.5" r="0.6" fill="#ff3030"/>
<circle cx="806.8" cy="130.6" r="1.1" fill="#f24040"/>
<circle cx="753.1" cy="124.7" r="0.6" fill="#ff4a4a"/>
<circle cx="790.5" cy="145.2" r="1.0" fill="#ff4a4a"/>
<circle cx="753.4" cy="118.5" r="0.7" fill="#ff3030"/>
<circle cx="797.0" cy="133.9" r="0.7" fill="#b00c12"/>
<circle cx="800.5" cy="106.5" r="0.9" fill="#f24040"/>
<circle cx="813.6" cy="100.9" r="0.8" fill="#ff3030"/>
<circle cx="790.3" cy="99.2" r="0.7" fill="#ff3030"/>
<circle cx="813.3" cy="111.5" r="0.7" fill="#ff8080"/>
<circle cx="770.3" cy="133.7" r="1.0" fill="#ff3030"/>
<circle cx="757.1" cy="101.6" r="0.9" fill="#b00c12"/>
<circle cx="791.5" cy="92.9" r="0.9" fill="#ff8080"/>
<circle cx="797.6" cy="144.8" r="1.1" fill="#ff3030"/>
<circle cx="785.5" cy="125.8" r="0.9" fill="#ff5c5c"/>
<circle cx="811.6" cy="111.6" r="0.5" fill="#f24040"/>
<circle cx="754.3" cy="108.5" r="0.7" fill="#ff4a4a"/>
<circle cx="782.3" cy="128.7" r="0.6" fill="#ff3030"/>
<circle cx="775.2" cy="107.6" r="1.1" fill="#b00c12"/>
<circle cx="757.9" cy="131.4" r="1.0" fill="#f24040"/>
<circle cx="753.7" cy="113.4" r="0.7" fill="#f24040"/>
<circle cx="791.1" cy="98.6" r="0.8" fill="#ff5c5c"/>
<circle cx="755.1" cy="110.6" r="0.9" fill="#b00c12"/>
<circle cx="813.2" cy="126.2" r="0.7" fill="#b00c12"/>
<circle cx="805.5" cy="118.0" r="1.1" fill="#ff4a4a"/>
<circle cx="811.0" cy="110.2" r="0.8" fill="#ff8080"/>
<circle cx="795.6" cy="118.2" r="1.1" fill="#f24040"/>
<circle cx="784.4" cy="131.6" r="0.8" fill="#b00c12"/>
<circle cx="791.8" cy="131.3" r="0.9" fill="#f24040"/>
<circle cx="779.0" cy="150.1" r="0.7" fill="#f24040"/>
<circle cx="805.2" cy="136.1" r="1.1" fill="#ff5c5c"/>
<circle cx="784.1" cy="112.9" r="1.1" fill="#f24040"/>
<circle cx="795.2" cy="120.1" r="0.8" fill="#ff5c5c"/>
<circle cx="761.0" cy="103.2" r="0.9" fill="#f24040"/>
<circle cx="786.5" cy="132.4" r="0.8" fill="#ff3030"/>
<circle cx="812.7" cy="99.5" r="0.9" fill="#b00c12"/>
<circle cx="793.9" cy="95.4" r="0.8" fill="#ff3030"/>
<circle cx="756.0" cy="137.2" r="0.9" fill="#b00c12"/>
<circle cx="807.4" cy="111.0" r="0.8" fill="#ff5c5c"/>
<circle cx="786.6" cy="130.1" r="1.2" fill="#f24040"/>
<circle cx="792.5" cy="87.9" r="1.0" fill="#ff4a4a"/>
<circle cx="784.3" cy="121.1" r="1.1" fill="#f24040"/>
<circle cx="767.5" cy="122.9" r="0.9" fill="#f24040"/>
<circle cx="791.6" cy="129.1" r="0.6" fill="#ff3030"/>
<circle cx="810.4" cy="100.3" r="0.9" fill="#ff5c5c"/>
<circle cx="802.1" cy="116.7" r="0.5" fill="#ff8080"/>
<circle cx="770.7" cy="111.1" r="1.1" fill="#ff5c5c"/>
<circle cx="802.0" cy="91.4" r="0.7" fill="#ff4a4a"/>
<circle cx="764.9" cy="100.7" r="1.0" fill="#f24040"/>
<circle cx="810.3" cy="132.6" r="1.1" fill="#ff8080"/>
<circle cx="773.7" cy="146.8" r="0.6" fill="#f24040"/>
<circle cx="771.2" cy="89.3" r="0.6" fill="#f24040"/>
<circle cx="759.6" cy="110.7" r="1.2" fill="#ff5c5c"/>
<circle cx="803.2" cy="113.1" r="0.6" fill="#f24040"/>
<circle cx="775.8" cy="140.0" r="0.5" fill="#b00c12"/>
<circle cx="795.7" cy="123.4" r="0.8" fill="#b00c12"/>
<circle cx="750.6" cy="125.7" r="1.0" fill="#ff4a4a"/>
<circle cx="805.4" cy="119.2" r="0.8" fill="#b00c12"/>
<circle cx="780.8" cy="128.8" r="1.1" fill="#ff4a4a"/>
<circle cx="800.6" cy="92.9" r="0.6" fill="#ff8080"/>
<circle cx="760.5" cy="93.1" r="0.7" fill="#b00c12"/>
<circle cx="772.6" cy="136.2" r="0.6" fill="#b00c12"/>
<circle cx="792.1" cy="137.4" r="0.7" fill="#ff4a4a"/>
<circle cx="808.7" cy="108.6" r="0.9" fill="#b00c12"/>
<circle cx="763.6" cy="124.6" r="0.6" fill="#ff4a4a"/>
<circle cx="807.9" cy="133.6" r="0.6" fill="#b00c12"/>
<circle cx="786.3" cy="123.8" r="0.9" fill="#f24040"/>
<circle cx="798.1" cy="126.4" r="1.2" fill="#ff5c5c"/>
<circle cx="755.9" cy="129.9" r="1.1" fill="#ff3030"/>
<circle cx="761.6" cy="128.6" r="0.6" fill="#b00c12"/>
<circle cx="801.4" cy="140.8" r="0.7" fill="#f24040"/>
<circle cx="780.3" cy="119.8" r="0.9" fill="#f24040"/>
<circle cx="771.2" cy="145.8" r="1.0" fill="#ff5c5c"/>
<circle cx="780.3" cy="114.5" r="0.6" fill="#ff3030"/>
<circle cx="775.9" cy="139.3" r="0.8" fill="#ff8080"/>
<circle cx="753.0" cy="115.7" r="0.9" fill="#ff4a4a"/>
<circle cx="800.7" cy="143.2" r="0.9" fill="#ff3030"/>
<circle cx="769.1" cy="137.3" r="0.9" fill="#ff5c5c"/>
<circle cx="794.8" cy="149.5" r="1.0" fill="#b00c12"/>
<circle cx="808.3" cy="107.2" r="0.9" fill="#ff4a4a"/>
<circle cx="787.2" cy="127.1" r="0.8" fill="#ff5c5c"/>
<circle cx="766.4" cy="127.5" r="1.2" fill="#ff4a4a"/>
<circle cx="768.7" cy="135.7" r="0.8" fill="#ff4a4a"/>
<circle cx="781.8" cy="100.5" r="0.9" fill="#ff8080"/>
<circle cx="759.7" cy="107.7" r="0.6" fill="#ff3030"/>
<circle cx="783.1" cy="84.4" r="0.9" fill="#ff3030"/>
<circle cx="806.8" cy="139.6" r="1.0" fill="#ff3030"/>
<circle cx="764.0" cy="140.5" r="1.1" fill="#ff3030"/>
<circle cx="794.2" cy="141.3" r="0.8" fill="#ff4a4a"/>
<circle cx="758.6" cy="135.2" r="0.6" fill="#b00c12"/>
<circle cx="785.2" cy="85.3" r="0.9" fill="#f24040"/>
<circle cx="764.6" cy="93.9" r="0.6" fill="#ff5c5c"/>
<circle cx="771.0" cy="120.1" r="0.6" fill="#f24040"/>
<circle cx="767.2" cy="128.8" r="0.7" fill="#ff5c5c"/>
<circle cx="765.6" cy="109.1" r="1.0" fill="#b00c12"/>
<circle cx="778.5" cy="86.9" r="1.2" fill="#f24040"/>
<circle cx="764.6" cy="103.4" r="1.1" fill="#f24040"/>
<circle cx="806.5" cy="103.8" r="1.0" fill="#f24040"/>
<circle cx="749.2" cy="120.6" r="0.8" fill="#b00c12"/>
<circle cx="759.9" cy="128.1" r="0.7" fill="#ff8080"/>
<circle cx="761.5" cy="114.6" r="0.7" fill="#ff4a4a"/>
<circle cx="812.1" cy="127.5" r="1.0" fill="#f24040"/>
<circle cx="759.2" cy="100.0" r="1.1" fill="#ff3030"/>
<circle cx="796.4" cy="105.4" r="0.7" fill="#f24040"/>
<circle cx="808.1" cy="92.8" r="1.0" fill="#f24040"/>
<circle cx="767.1" cy="114.7" r="1.0" fill="#ff3030"/>
<circle cx="814.5" cy="105.5" r="1.2" fill="#b00c12"/>
<circle cx="767.5" cy="89.4" r="0.9" fill="#f24040"/>
<circle cx="798.5" cy="141.7" r="0.9" fill="#f24040"/>
<circle cx="793.0" cy="111.2" r="0.6" fill="#ff5c5c"/>
<circle cx="750.8" cy="109.5" r="0.7" fill="#ff4a4a"/>
<circle cx="783.3" cy="112.1" r="0.5" fill="#ff5c5c"/>
<circle cx="809.0" cy="98.1" r="0.6" fill="#f24040"/>
<circle cx="778.0" cy="101.8" r="0.5" fill="#ff3030"/>
<circle cx="799.6" cy="105.9" r="0.6" fill="#f24040"/>
<circle cx="789.1" cy="87.1" r="0.6" fill="#ff5c5c"/>
<circle cx="802.4" cy="94.9" r="0.6" fill="#ff4a4a"/>
<circle cx="794.9" cy="99.8" r="0.5" fill="#f24040"/>
<circle cx="764.7" cy="95.5" r="0.6" fill="#ff8080"/>
<circle cx="773.7" cy="106.2" r="1.0" fill="#ff4a4a"/>
<circle cx="773.1" cy="147.2" r="1.1" fill="#ff3030"/>
<circle cx="781.0" cy="105.0" r="1.2" fill="#b00c12"/>
<circle cx="788.1" cy="95.3" r="0.7" fill="#ff5c5c"/>
<circle cx="773.6" cy="145.1" r="0.7" fill="#ff5c5c"/>
<circle cx="779.4" cy="93.2" r="1.1" fill="#ff3030"/>
<circle cx="764.2" cy="137.9" r="0.9" fill="#ff4a4a"/>
<circle cx="786.5" cy="136.5" r="1.0" fill="#ff5c5c"/>
<circle cx="779.3" cy="145.1" r="0.8" fill="#ff4a4a"/>
<circle cx="813.7" cy="133.0" r="0.9" fill="#ff4a4a"/>
<circle cx="810.0" cy="125.1" r="0.9" fill="#ff3030"/>
<circle cx="760.6" cy="129.7" r="0.7" fill="#ff5c5c"/>
<circle cx="784.6" cy="100.2" r="1.0" fill="#ff3030"/>
<circle cx="814.6" cy="123.1" r="1.2" fill="#ff5c5c"/>
<circle cx="807.3" cy="122.5" r="0.8" fill="#ff8080"/>
<circle cx="806.3" cy="106.9" r="0.5" fill="#ff5c5c"/>
<circle cx="789.6" cy="84.6" r="1.0" fill="#ff3030"/>
<circle cx="789.2" cy="92.9" r="1.1" fill="#ff8080"/>
<circle cx="761.0" cy="91.5" r="1.2" fill="#b00c12"/>
<circle cx="798.2" cy="144.9" r="0.6" fill="#ff5c5c"/>
<circle cx="757.7" cy="128.8" r="1.0" fill="#ff8080"/>
<circle cx="791.1" cy="87.2" r="0.7" fill="#ff5c5c"/>
<circle cx="752.9" cy="108.6" r="0.8" fill="#ff8080"/>
<circle cx="810.4" cy="123.5" r="0.5" fill="#b00c12"/>
<circle cx="752.9" cy="128.0" r="0.6" fill="#ff3030"/>
<circle cx="808.5" cy="120.2" r="0.9" fill="#f24040"/>
<circle cx="778.6" cy="85.6" r="0.6" fill="#ff4a4a"/>
<circle cx="806.0" cy="103.0" r="0.9" fill="#ff8080"/>
<circle cx="779.2" cy="90.3" r="0.7" fill="#ff4a4a"/>
<circle cx="802.9" cy="122.7" r="1.0" fill="#ff8080"/>
<circle cx="789.9" cy="87.4" r="0.6" fill="#f24040"/>
<circle cx="790.2" cy="104.4" r="0.7" fill="#ff3030"/>
<circle cx="755.6" cy="118.1" r="1.1" fill="#ff8080"/>
<circle cx="804.8" cy="125.9" r="1.0" fill="#ff3030"/>
<circle cx="774.2" cy="84.7" r="0.8" fill="#ff5c5c"/>
<circle cx="786.5" cy="82.8" r="1.0" fill="#ff5c5c"/>
<circle cx="749.6" cy="112.8" r="0.7" fill="#ff4a4a"/>
<circle cx="794.2" cy="109.1" r="0.9" fill="#f24040"/>
<circle cx="750.7" cy="123.4" r="1.0" fill="#ff4a4a"/>
<circle cx="776.9" cy="83.7" r="0.7" fill="#ff8080"/>
<circle cx="783.5" cy="143.5" r="0.8" fill="#ff5c5c"/>
<circle cx="798.3" cy="126.1" r="0.7" fill="#ff3030"/>
<circle cx="811.2" cy="114.3" r="0.6" fill="#ff4a4a"/>
<circle cx="754.0" cy="99.7" r="0.7" fill="#b00c12"/>
<circle cx="772.9" cy="86.9" r="1.1" fill="#ff8080"/>
<circle cx="798.3" cy="146.6" r="0.8" fill="#ff5c5c"/>
<circle cx="787.2" cy="101.6" r="0.7" fill="#ff3030"/>
<circle cx="792.4" cy="87.3" r="0.6" fill="#f24040"/>
<circle cx="789.3" cy="140.8" r="0.8" fill="#ff3030"/>
<circle cx="756.3" cy="119.2" r="1.1" fill="#ff5c5c"/>
<circle cx="790.1" cy="138.3" r="0.5" fill="#ff4a4a"/>
<circle cx="778.4" cy="151.1" r="0.5" fill="#ff8080"/>
<circle cx="791.4" cy="133.8" r="0.9" fill="#f24040"/>
<circle cx="774.4" cy="104.3" r="0.8" fill="#ff4a4a"/>
<circle cx="803.3" cy="145.3" r="0.6" fill="#ff3030"/>
<circle cx="785.8" cy="149.5" r="0.5" fill="#ff4a4a"/>
<circle cx="774.5" cy="137.0" r="1.1" fill="#ff4a4a"/>
<circle cx="771.0" cy="129.5" r="1.0" fill="#ff8080"/>
<circle cx="775.2" cy="143.3" r="0.5" fill="#f24040"/>
<circle cx="799.8" cy="139.4" r="0.6" fill="#ff4a4a"/>
<circle cx="763.5" cy="130.4" r="0.6" fill="#b00c12"/>
<circle cx="779.2" cy="100.3" r="0.8" fill="#b00c12"/>
<circle cx="760.5" cy="140.4" r="0.9" fill="#ff3030"/>
<circle cx="771.7" cy="121.5" r="1.1" fill="#ff8080"/>
<circle cx="786.8" cy="136.2" r="0.9" fill="#ff3030"/>
<circle cx="804.5" cy="142.4" r="0.9" fill="#b00c12"/>
<circle cx="755.2" cy="104.8" r="0.7" fill="#b00c12"/>
<circle cx="767.9" cy="88.0" r="0.9" fill="#ff5c5c"/>
<circle cx="776.6" cy="127.2" r="0.7" fill="#ff3030"/>
<circle cx="776.9" cy="109.7" r="0.6" fill="#f24040"/>
<circle cx="759.5" cy="118.6" r="0.7" fill="#ff3030"/>
<circle cx="779.2" cy="101.7" r="0.6" fill="#f24040"/>
<circle cx="786.4" cy="96.9" r="0.7" fill="#b00c12"/>
<circle cx="801.1" cy="128.8" r="1.1" fill="#f24040"/>
<circle cx="766.4" cy="119.9" r="0.7" fill="#ff8080"/>
<circle cx="812.6" cy="100.5" r="0.8" fill="#ff4a4a"/>
<circle cx="804.5" cy="126.1" r="0.8" fill="#ff4a4a"/>
<circle cx="795.0" cy="101.8" r="0.7" fill="#b00c12"/>
<circle cx="783.9" cy="122.9" r="0.7" fill="#ff3030"/>
<circle cx="770.7" cy="131.1" r="1.1" fill="#b00c12"/>
<circle cx="770.4" cy="100.6" r="1.2" fill="#ff3030"/>
<circle cx="766.7" cy="137.7" r="1.0" fill="#ff5c5c"/>
<circle cx="764.8" cy="97.7" r="0.9" fill="#f24040"/>
<circle cx="792.4" cy="121.1" r="1.1" fill="#f24040"/>
<circle cx="759.4" cy="140.1" r="1.1" fill="#ff4a4a"/>
<circle cx="776.6" cy="100.8" r="0.8" fill="#f24040"/>
<circle cx="797.4" cy="115.5" r="0.7" fill="#ff5c5c"/>
<circle cx="783.2" cy="133.9" r="0.5" fill="#ff8080"/>
<circle cx="762.9" cy="111.5" r="0.9" fill="#ff5c5c"/>
<circle cx="801.8" cy="92.6" r="0.9" fill="#ff4a4a"/>
<polygon points="775.8,86.8 773.9,89.3 772.7,92.2 768.2,91.9 764.5,92.9 761.4,91.3 758.5,89.5 758.5,86.8 758.0,83.9 761.5,82.4 764.3,80.0 768.3,81.2 771.9,82.1 773.6,84.4" fill="#2a88d8" stroke="#1d6cb8" stroke-width="0.6" stroke-linejoin="round"/>
<circle cx="774.3" cy="87.9" r="1.7" fill="#2a88d8"/>
<circle cx="771.8" cy="91.0" r="1.6" fill="#2a88d8"/>
<circle cx="765.5" cy="92.4" r="1.7" fill="#2a88d8"/>
<circle cx="761.9" cy="91.4" r="1.5" fill="#2a88d8"/>
<circle cx="758.7" cy="88.0" r="1.5" fill="#2a88d8"/>
<circle cx="759.7" cy="83.9" r="1.5" fill="#2a88d8"/>
<circle cx="762.7" cy="81.9" r="1.4" fill="#2a88d8"/>
<circle cx="768.2" cy="81.3" r="1.8" fill="#2a88d8"/>
<circle cx="772.9" cy="83.4" r="1.7" fill="#2a88d8"/>
<circle cx="771.2" cy="87.8" r="1.2" fill="#2f90e2"/>
<circle cx="768.3" cy="88.7" r="1.2" fill="#1f78c8"/>
<circle cx="766.6" cy="90.8" r="1.2" fill="#1f78c8"/>
<circle cx="764.1" cy="90.6" r="1.3" fill="#2f90e2"/>
<circle cx="762.8" cy="87.6" r="1.4" fill="#3598e8"/>
<circle cx="761.9" cy="86.1" r="1.5" fill="#1f78c8"/>
<circle cx="764.0" cy="84.5" r="1.2" fill="#3598e8"/>
<circle cx="765.6" cy="82.9" r="1.2" fill="#3598e8"/>
<circle cx="769.7" cy="84.2" r="1.5" fill="#3598e8"/>
<circle cx="770.0" cy="85.4" r="1.2" fill="#1f78c8"/>
<circle cx="760.3" cy="90.1" r="0.9" fill="#8fd2ff"/>
<circle cx="770.9" cy="91.5" r="0.8" fill="#5cb4f0"/>
<circle cx="765.0" cy="91.5" r="0.9" fill="#8fd2ff"/>
<circle cx="760.2" cy="89.8" r="0.8" fill="#1560a8"/>
<circle cx="767.5" cy="88.1" r="0.6" fill="#6cc0f5"/>
<circle cx="765.4" cy="90.2" r="0.7" fill="#5cb4f0"/>
<circle cx="771.5" cy="86.4" r="0.8" fill="#b5e2ff"/>
<circle cx="765.0" cy="91.9" r="0.6" fill="#8fd2ff"/>
<circle cx="759.4" cy="85.0" r="0.8" fill="#1560a8"/>
<circle cx="769.8" cy="89.0" r="0.5" fill="#b5e2ff"/>
<circle cx="762.7" cy="85.6" r="0.6" fill="#0f4f90"/>
<circle cx="767.3" cy="90.7" r="0.6" fill="#0f4f90"/>
<circle cx="763.6" cy="86.0" r="0.5" fill="#0f4f90"/>
<circle cx="766.3" cy="86.5" r="0.6" fill="#5cb4f0"/>
<circle cx="770.1" cy="86.8" r="0.8" fill="#1560a8"/>
<circle cx="771.1" cy="87.5" r="0.7" fill="#b5e2ff"/>
<circle cx="772.1" cy="88.3" r="0.7" fill="#b5e2ff"/>
<circle cx="766.4" cy="89.2" r="0.6" fill="#5cb4f0"/>
<circle cx="771.8" cy="86.7" r="0.8" fill="#6cc0f5"/>
<circle cx="773.6" cy="88.3" r="0.9" fill="#b5e2ff"/>
<circle cx="768.1" cy="87.8" r="0.6" fill="#b5e2ff"/>
<circle cx="764.4" cy="90.5" r="0.5" fill="#5cb4f0"/>
<circle cx="770.9" cy="88.1" r="0.8" fill="#0f4f90"/>
<circle cx="769.1" cy="82.2" r="0.8" fill="#1560a8"/>
<circle cx="764.4" cy="90.6" r="0.7" fill="#8fd2ff"/>
<circle cx="771.6" cy="85.3" r="0.8" fill="#1560a8"/>
<circle cx="766.5" cy="92.1" r="0.5" fill="#b5e2ff"/>
<circle cx="769.4" cy="89.3" r="0.8" fill="#b5e2ff"/>
<polygon points="810.3,86.8 808.5,89.3 807.0,91.7 803.8,92.2 800.6,92.9 798.4,90.9 794.8,89.8 795.9,86.8 795.8,84.2 798.3,82.7 800.5,80.3 803.7,81.8 807.4,81.6 808.3,84.4" fill="#2a88d8" stroke="#1d6cb8" stroke-width="0.6" stroke-linejoin="round"/>
<circle cx="808.8" cy="88.3" r="1.5" fill="#2a88d8"/>
<circle cx="807.3" cy="90.6" r="1.5" fill="#2a88d8"/>
<circle cx="802.5" cy="92.4" r="1.6" fill="#2a88d8"/>
<circle cx="798.9" cy="91.6" r="1.7" fill="#2a88d8"/>
<circle cx="795.6" cy="87.8" r="1.6" fill="#2a88d8"/>
<circle cx="796.6" cy="83.8" r="1.9" fill="#2a88d8"/>
<circle cx="799.4" cy="81.7" r="1.9" fill="#2a88d8"/>
<circle cx="804.3" cy="81.5" r="1.8" fill="#2a88d8"/>
<circle cx="807.7" cy="83.4" r="2.0" fill="#2a88d8"/>
<circle cx="808.0" cy="87.6" r="1.2" fill="#2f90e2"/>
<circle cx="805.6" cy="90.5" r="1.6" fill="#3598e8"/>
<circle cx="802.5" cy="91.5" r="1.3" fill="#3598e8"/>
<circle cx="799.8" cy="89.7" r="1.1" fill="#1f78c8"/>
<circle cx="798.7" cy="88.0" r="1.5" fill="#3598e8"/>
<circle cx="798.7" cy="86.1" r="1.4" fill="#1f78c8"/>
<circle cx="799.6" cy="84.1" r="1.4" fill="#3598e8"/>
<circle cx="801.0" cy="82.8" r="1.6" fill="#2f90e2"/>
<circle cx="804.5" cy="84.1" r="1.3" fill="#3598e8"/>
<circle cx="806.2" cy="85.1" r="1.1" fill="#3598e8"/>
<circle cx="797.8" cy="86.1" r="0.6" fill="#8fd2ff"/>
<circle cx="796.9" cy="83.8" r="0.5" fill="#1560a8"/>
<circle cx="800.7" cy="89.3" r="0.7" fill="#5cb4f0"/>
<circle cx="801.7" cy="81.2" r="0.6" fill="#5cb4f0"/>
<circle cx="802.4" cy="81.5" r="0.5" fill="#5cb4f0"/>
<circle cx="805.2" cy="83.0" r="0.9" fill="#8fd2ff"/>
<circle cx="803.7" cy="83.0" r="0.9" fill="#8fd2ff"/>
<circle cx="802.8" cy="87.8" r="0.6" fill="#b5e2ff"/>
<circle cx="803.9" cy="83.3" r="0.7" fill="#1560a8"/>
<circle cx="803.5" cy="89.6" r="0.7" fill="#8fd2ff"/>
<circle cx="805.8" cy="89.1" r="0.8" fill="#5cb4f0"/>
<circle cx="806.6" cy="88.5" r="0.5" fill="#b5e2ff"/>
<circle cx="804.0" cy="86.6" r="0.9" fill="#0f4f90"/>
<circle cx="804.0" cy="89.7" r="0.9" fill="#5cb4f0"/>
<circle cx="803.5" cy="85.1" r="0.5" fill="#1560a8"/>
<circle cx="807.8" cy="87.7" r="0.7" fill="#1560a8"/>
<circle cx="808.4" cy="89.2" r="0.5" fill="#6cc0f5"/>
<circle cx="799.6" cy="91.8" r="0.9" fill="#b5e2ff"/>
<circle cx="800.1" cy="83.6" r="0.5" fill="#0f4f90"/>
<circle cx="800.4" cy="81.9" r="0.9" fill="#6cc0f5"/>
<circle cx="797.8" cy="84.0" r="0.5" fill="#5cb4f0"/>
<circle cx="804.8" cy="90.6" r="0.5" fill="#0f4f90"/>
<circle cx="807.2" cy="90.4" r="0.7" fill="#0f4f90"/>
<polygon points="793.7,99.5 790.8,103.0 789.6,107.1 785.4,107.7 781.1,110.2 777.6,106.9 773.5,104.3 775.1,99.5 774.7,95.3 778.2,92.8 781.2,89.4 785.5,90.7 789.8,91.6 791.0,95.9" fill="#2a88d8" stroke="#1d6cb8" stroke-width="0.6" stroke-linejoin="round"/>
<circle cx="792.7" cy="100.0" r="2.4" fill="#2a88d8"/>
<circle cx="789.2" cy="106.7" r="2.7" fill="#2a88d8"/>
<circle cx="783.3" cy="108.7" r="2.4" fill="#2a88d8"/>
<circle cx="778.5" cy="107.2" r="3.1" fill="#2a88d8"/>
<circle cx="774.3" cy="99.2" r="2.4" fill="#2a88d8"/>
<circle cx="776.0" cy="94.2" r="2.5" fill="#2a88d8"/>
<circle cx="780.5" cy="90.8" r="2.5" fill="#2a88d8"/>
<circle cx="786.6" cy="90.8" r="2.5" fill="#2a88d8"/>
<circle cx="791.8" cy="95.6" r="2.6" fill="#2a88d8"/>
<circle cx="789.6" cy="100.3" r="2.5" fill="#2f90e2"/>
<circle cx="788.4" cy="104.0" r="2.5" fill="#3598e8"/>
<circle cx="785.1" cy="104.4" r="2.4" fill="#2f90e2"/>
<circle cx="781.4" cy="103.7" r="1.8" fill="#1f78c8"/>
<circle cx="778.1" cy="103.1" r="2.2" fill="#3598e8"/>
<circle cx="778.4" cy="99.3" r="2.2" fill="#1f78c8"/>
<circle cx="779.2" cy="94.4" r="2.9" fill="#3598e8"/>
<circle cx="783.3" cy="95.3" r="1.8" fill="#3598e8"/>
<circle cx="785.9" cy="95.2" r="2.5" fill="#1f78c8"/>
<circle cx="787.2" cy="97.0" r="1.7" fill="#2f90e2"/>
<circle cx="779.5" cy="101.3" r="0.7" fill="#8fd2ff"/>
<circle cx="785.9" cy="99.5" r="0.7" fill="#1560a8"/>
<circle cx="785.7" cy="90.9" r="0.7" fill="#b5e2ff"/>
<circle cx="784.9" cy="104.9" r="0.5" fill="#1560a8"/>
<circle cx="790.3" cy="104.1" r="0.5" fill="#6cc0f5"/>
<circle cx="780.8" cy="91.8" r="0.9" fill="#6cc0f5"/>
<circle cx="786.5" cy="92.2" r="0.8" fill="#8fd2ff"/>
<circle cx="780.2" cy="101.0" r="0.6" fill="#0f4f90"/>
<circle cx="791.7" cy="96.5" r="0.5" fill="#0f4f90"/>
<circle cx="777.6" cy="103.1" r="0.9" fill="#8fd2ff"/>
<circle cx="781.4" cy="105.7" r="0.5" fill="#b5e2ff"/>
<circle cx="784.1" cy="107.0" r="0.7" fill="#0f4f90"/>
<circle cx="781.3" cy="107.3" r="0.6" fill="#1560a8"/>
<circle cx="774.6" cy="101.4" r="0.7" fill="#5cb4f0"/>
<circle cx="777.7" cy="97.3" r="0.8" fill="#8fd2ff"/>
<circle cx="785.9" cy="93.4" r="0.5" fill="#b5e2ff"/>
<circle cx="777.7" cy="98.6" r="0.7" fill="#6cc0f5"/>
<circle cx="789.3" cy="98.2" r="0.5" fill="#5cb4f0"/>
<circle cx="784.4" cy="96.6" r="0.8" fill="#1560a8"/>
<circle cx="787.2" cy="105.1" r="0.5" fill="#8fd2ff"/>
<circle cx="774.7" cy="99.9" r="0.7" fill="#8fd2ff"/>
<circle cx="779.6" cy="102.7" r="0.5" fill="#b5e2ff"/>
<circle cx="790.2" cy="105.2" r="0.6" fill="#1560a8"/>
<circle cx="786.1" cy="108.3" r="0.7" fill="#5cb4f0"/>
<circle cx="777.6" cy="96.8" r="0.9" fill="#1560a8"/>
<circle cx="780.1" cy="96.1" r="0.7" fill="#5cb4f0"/>
<circle cx="779.4" cy="103.9" r="0.7" fill="#0f4f90"/>
<circle cx="780.3" cy="95.2" r="0.5" fill="#0f4f90"/>
<circle cx="784.7" cy="97.5" r="0.7" fill="#b5e2ff"/>
<circle cx="779.8" cy="107.0" r="0.8" fill="#6cc0f5"/>
<circle cx="779.9" cy="103.2" r="0.7" fill="#5cb4f0"/>
<circle cx="776.9" cy="98.7" r="0.8" fill="#0f4f90"/>
<circle cx="776.0" cy="104.5" r="0.5" fill="#b5e2ff"/>
<circle cx="780.7" cy="103.1" r="0.9" fill="#6cc0f5"/>
<circle cx="780.1" cy="103.2" r="0.7" fill="#b5e2ff"/>
<circle cx="787.2" cy="100.9" r="0.5" fill="#0f4f90"/>
<circle cx="786.1" cy="100.4" r="0.6" fill="#0f4f90"/>
<circle cx="786.7" cy="91.1" r="0.7" fill="#0f4f90"/>
<circle cx="779.5" cy="102.3" r="0.8" fill="#8fd2ff"/>
<circle cx="780.0" cy="102.1" r="0.6" fill="#8fd2ff"/>
<circle cx="780.1" cy="107.1" r="0.8" fill="#6cc0f5"/>
<circle cx="781.6" cy="108.5" r="0.7" fill="#1560a8"/>
<circle cx="778.7" cy="94.7" r="0.9" fill="#6cc0f5"/>
<circle cx="782.0" cy="92.4" r="0.8" fill="#5cb4f0"/>
<circle cx="782.9" cy="99.2" r="0.8" fill="#1560a8"/>
<circle cx="779.8" cy="105.8" r="0.9" fill="#8fd2ff"/>
<circle cx="784.7" cy="101.8" r="0.8" fill="#5cb4f0"/>
<circle cx="779.1" cy="103.8" r="0.6" fill="#8fd2ff"/>
<circle cx="775.3" cy="102.5" r="0.8" fill="#8fd2ff"/>
<circle cx="788.8" cy="98.0" r="0.8" fill="#6cc0f5"/>
<circle cx="785.9" cy="101.6" r="0.6" fill="#6cc0f5"/>
<circle cx="775.3" cy="96.2" r="0.5" fill="#1560a8"/>
<polygon points="760.1,118.6 758.2,121.9 757.9,126.7 754.3,126.0 751.4,127.6 749.2,124.8 745.9,123.1 746.4,118.6 746.7,114.6 749.0,112.0 751.4,109.2 754.4,110.8 757.8,110.7 758.6,115.1" fill="#2a88d8" stroke="#1d6cb8" stroke-width="0.6" stroke-linejoin="round"/>
<circle cx="759.3" cy="120.2" r="2.0" fill="#2a88d8"/>
<circle cx="756.2" cy="125.8" r="2.1" fill="#2a88d8"/>
<circle cx="753.3" cy="127.0" r="1.6" fill="#2a88d8"/>
<circle cx="748.2" cy="124.1" r="2.0" fill="#2a88d8"/>
<circle cx="746.7" cy="120.3" r="2.1" fill="#2a88d8"/>
<circle cx="747.8" cy="113.7" r="1.9" fill="#2a88d8"/>
<circle cx="751.2" cy="110.5" r="1.9" fill="#2a88d8"/>
<circle cx="756.0" cy="111.2" r="1.7" fill="#2a88d8"/>
<circle cx="758.9" cy="115.2" r="1.9" fill="#2a88d8"/>
<circle cx="757.0" cy="118.8" r="1.7" fill="#2f90e2"/>
<circle cx="755.6" cy="123.0" r="1.4" fill="#3598e8"/>
<circle cx="753.0" cy="122.8" r="1.4" fill="#3598e8"/>
<circle cx="751.0" cy="123.7" r="1.6" fill="#2f90e2"/>
<circle cx="749.3" cy="119.9" r="1.6" fill="#3598e8"/>
<circle cx="748.6" cy="118.2" r="1.7" fill="#1f78c8"/>
<circle cx="751.6" cy="115.9" r="1.8" fill="#1f78c8"/>
<circle cx="752.0" cy="113.6" r="1.6" fill="#2f90e2"/>
<circle cx="756.1" cy="113.7" r="1.8" fill="#3598e8"/>
<circle cx="755.5" cy="116.7" r="2.0" fill="#1f78c8"/>
<circle cx="752.7" cy="113.7" r="0.5" fill="#5cb4f0"/>
<circle cx="747.7" cy="114.7" r="0.9" fill="#6cc0f5"/>
<circle cx="752.0" cy="121.1" r="0.8" fill="#0f4f90"/>
<circle cx="748.5" cy="113.8" r="0.9" fill="#8fd2ff"/>
<circle cx="753.0" cy="119.8" r="0.7" fill="#0f4f90"/>
<circle cx="751.3" cy="114.7" r="0.7" fill="#0f4f90"/>
<circle cx="749.7" cy="119.0" r="0.6" fill="#0f4f90"/>
<circle cx="755.3" cy="117.5" r="0.6" fill="#b5e2ff"/>
<circle cx="756.1" cy="113.4" r="0.7" fill="#6cc0f5"/>
<circle cx="755.9" cy="124.8" r="0.8" fill="#b5e2ff"/>
<circle cx="753.5" cy="114.4" r="0.5" fill="#0f4f90"/>
<circle cx="750.3" cy="113.6" r="0.7" fill="#6cc0f5"/>
<circle cx="749.2" cy="123.8" r="0.9" fill="#b5e2ff"/>
<circle cx="752.3" cy="125.7" r="0.8" fill="#8fd2ff"/>
<circle cx="755.0" cy="117.7" r="0.9" fill="#6cc0f5"/>
<circle cx="752.8" cy="114.0" r="0.5" fill="#b5e2ff"/>
<circle cx="755.7" cy="117.7" r="0.6" fill="#0f4f90"/>
<circle cx="754.1" cy="117.1" r="0.7" fill="#8fd2ff"/>
<circle cx="755.6" cy="122.8" r="0.5" fill="#6cc0f5"/>
<circle cx="759.2" cy="117.3" r="0.9" fill="#b5e2ff"/>
<circle cx="757.1" cy="121.4" r="0.5" fill="#b5e2ff"/>
<circle cx="751.3" cy="112.4" r="0.9" fill="#6cc0f5"/>
<circle cx="754.9" cy="120.5" r="0.5" fill="#6cc0f5"/>
<circle cx="748.2" cy="119.1" r="0.9" fill="#b5e2ff"/>
<circle cx="758.1" cy="122.8" r="0.6" fill="#5cb4f0"/>
<circle cx="751.2" cy="110.8" r="0.9" fill="#5cb4f0"/>
<circle cx="756.9" cy="112.3" r="0.5" fill="#1560a8"/>
<circle cx="754.8" cy="110.6" r="0.7" fill="#b5e2ff"/>
<circle cx="751.9" cy="121.8" r="0.8" fill="#5cb4f0"/>
<circle cx="754.1" cy="118.2" r="0.5" fill="#0f4f90"/>
<circle cx="754.0" cy="118.3" r="0.5" fill="#5cb4f0"/>
<circle cx="751.3" cy="113.0" r="0.7" fill="#6cc0f5"/>
<circle cx="753.1" cy="118.4" r="0.5" fill="#5cb4f0"/>
<polygon points="821.4,116.5 819.3,120.0 817.8,123.6 814.4,123.8 811.3,125.2 809.3,122.0 805.6,120.7 806.7,116.5 805.9,112.5 808.9,110.4 811.3,107.8 814.5,108.7 817.8,109.4 818.6,113.3" fill="#2a88d8" stroke="#1d6cb8" stroke-width="0.6" stroke-linejoin="round"/>
<circle cx="819.4" cy="119.3" r="1.8" fill="#2a88d8"/>
<circle cx="817.9" cy="122.0" r="1.9" fill="#2a88d8"/>
<circle cx="812.9" cy="124.5" r="2.2" fill="#2a88d8"/>
<circle cx="808.8" cy="122.8" r="1.9" fill="#2a88d8"/>
<circle cx="806.2" cy="117.2" r="1.9" fill="#2a88d8"/>
<circle cx="807.2" cy="112.3" r="1.9" fill="#2a88d8"/>
<circle cx="811.8" cy="108.6" r="1.8" fill="#2a88d8"/>
<circle cx="814.8" cy="108.8" r="1.9" fill="#2a88d8"/>
<circle cx="818.7" cy="112.2" r="2.2" fill="#2a88d8"/>
<circle cx="818.0" cy="118.1" r="1.7" fill="#3598e8"/>
<circle cx="815.6" cy="120.4" r="1.7" fill="#3598e8"/>
<circle cx="813.9" cy="123.4" r="1.6" fill="#2f90e2"/>
<circle cx="812.1" cy="119.6" r="2.0" fill="#3598e8"/>
<circle cx="808.7" cy="119.0" r="1.5" fill="#3598e8"/>
<circle cx="809.5" cy="115.9" r="1.8" fill="#1f78c8"/>
<circle cx="808.4" cy="112.3" r="2.1" fill="#3598e8"/>
<circle cx="812.6" cy="112.0" r="1.3" fill="#3598e8"/>
<circle cx="814.2" cy="112.9" r="2.0" fill="#3598e8"/>
<circle cx="816.6" cy="115.4" r="2.1" fill="#3598e8"/>
<circle cx="814.3" cy="112.2" r="0.5" fill="#5cb4f0"/>
<circle cx="816.7" cy="121.5" r="0.8" fill="#6cc0f5"/>
<circle cx="817.2" cy="112.2" r="0.6" fill="#6cc0f5"/>
<circle cx="815.6" cy="119.4" r="0.9" fill="#8fd2ff"/>
<circle cx="818.8" cy="115.8" r="0.8" fill="#8fd2ff"/>
<circle cx="812.0" cy="119.7" r="0.5" fill="#b5e2ff"/>
<circle cx="806.9" cy="115.5" r="0.6" fill="#b5e2ff"/>
<circle cx="812.8" cy="118.9" r="0.7" fill="#8fd2ff"/>
<circle cx="816.4" cy="118.6" r="0.8" fill="#6cc0f5"/>
<circle cx="810.3" cy="116.4" r="0.6" fill="#b5e2ff"/>
<circle cx="816.7" cy="119.9" r="0.9" fill="#b5e2ff"/>
<circle cx="807.9" cy="118.1" r="0.8" fill="#1560a8"/>
<circle cx="815.5" cy="117.2" r="0.7" fill="#6cc0f5"/>
<circle cx="818.9" cy="117.6" r="0.6" fill="#8fd2ff"/>
<circle cx="812.7" cy="118.2" r="0.6" fill="#5cb4f0"/>
<circle cx="814.0" cy="116.2" r="0.6" fill="#1560a8"/>
<circle cx="811.7" cy="115.2" r="0.5" fill="#0f4f90"/>
<circle cx="816.7" cy="116.9" r="0.5" fill="#0f4f90"/>
<circle cx="815.9" cy="111.6" r="0.8" fill="#0f4f90"/>
<circle cx="810.3" cy="113.3" r="0.6" fill="#b5e2ff"/>
<circle cx="809.2" cy="114.0" r="0.7" fill="#1560a8"/>
<circle cx="812.7" cy="124.3" r="0.7" fill="#6cc0f5"/>
<circle cx="818.8" cy="113.6" r="0.8" fill="#5cb4f0"/>
<circle cx="808.0" cy="117.7" r="0.9" fill="#5cb4f0"/>
<circle cx="816.5" cy="114.7" r="0.7" fill="#1560a8"/>
<circle cx="816.6" cy="123.0" r="0.6" fill="#8fd2ff"/>
<circle cx="812.7" cy="116.2" r="0.7" fill="#8fd2ff"/>
<circle cx="806.5" cy="116.6" r="0.7" fill="#1560a8"/>
<circle cx="810.8" cy="110.5" r="0.6" fill="#1560a8"/>
<circle cx="808.2" cy="113.6" r="0.7" fill="#8fd2ff"/>
<circle cx="810.7" cy="122.3" r="0.5" fill="#5cb4f0"/>
<circle cx="816.5" cy="115.7" r="0.6" fill="#8fd2ff"/>
<circle cx="812.7" cy="118.3" r="0.7" fill="#1560a8"/>
<circle cx="814.0" cy="112.6" r="0.9" fill="#b5e2ff"/>
<polygon points="793.3,135.7 791.3,138.8 789.6,142.0 785.3,142.3 781.0,144.7 778.3,141.1 774.3,139.4 774.4,135.7 774.0,131.9 777.5,129.5 781.1,127.0 785.5,128.3 790.0,129.0 791.2,132.6" fill="#2a88d8" stroke="#1d6cb8" stroke-width="0.6" stroke-linejoin="round"/>
<circle cx="792.4" cy="137.7" r="2.0" fill="#2a88d8"/>
<circle cx="789.9" cy="141.1" r="2.5" fill="#2a88d8"/>
<circle cx="784.1" cy="143.3" r="2.1" fill="#2a88d8"/>
<circle cx="776.4" cy="140.6" r="2.0" fill="#2a88d8"/>
<circle cx="774.4" cy="136.9" r="2.4" fill="#2a88d8"/>
<circle cx="774.9" cy="133.0" r="2.5" fill="#2a88d8"/>
<circle cx="782.2" cy="128.2" r="2.4" fill="#2a88d8"/>
<circle cx="786.8" cy="128.6" r="2.4" fill="#2a88d8"/>
<circle cx="791.9" cy="132.5" r="2.2" fill="#2a88d8"/>
<circle cx="790.4" cy="138.0" r="2.4" fill="#3598e8"/>
<circle cx="789.7" cy="139.8" r="2.3" fill="#2f90e2"/>
<circle cx="784.8" cy="140.8" r="2.2" fill="#2f90e2"/>
<circle cx="779.4" cy="139.7" r="1.5" fill="#1f78c8"/>
<circle cx="778.4" cy="137.3" r="1.8" fill="#2f90e2"/>
<circle cx="776.4" cy="133.8" r="2.0" fill="#2f90e2"/>
<circle cx="779.9" cy="132.1" r="1.8" fill="#2f90e2"/>
<circle cx="781.3" cy="129.8" r="1.9" fill="#3598e8"/>
<circle cx="786.0" cy="130.9" r="1.5" fill="#3598e8"/>
<circle cx="788.0" cy="134.0" r="1.7" fill="#3598e8"/>
<circle cx="788.2" cy="136.4" r="0.8" fill="#8fd2ff"/>
<circle cx="779.2" cy="142.1" r="0.9" fill="#0f4f90"/>
<circle cx="776.6" cy="134.5" r="0.6" fill="#1560a8"/>
<circle cx="784.3" cy="131.4" r="0.6" fill="#b5e2ff"/>
<circle cx="785.9" cy="135.6" r="0.5" fill="#6cc0f5"/>
<circle cx="777.3" cy="134.5" r="0.8" fill="#5cb4f0"/>
<circle cx="781.4" cy="142.8" r="0.6" fill="#1560a8"/>
<circle cx="782.4" cy="137.5" r="0.5" fill="#0f4f90"/>
<circle cx="781.1" cy="142.5" r="0.8" fill="#b5e2ff"/>
<circle cx="778.5" cy="138.2" r="0.6" fill="#1560a8"/>
<circle cx="785.7" cy="134.6" r="0.6" fill="#1560a8"/>
<circle cx="780.3" cy="129.6" r="0.7" fill="#6cc0f5"/>
<circle cx="789.3" cy="133.3" r="0.9" fill="#b5e2ff"/>
<circle cx="774.6" cy="133.8" r="0.7" fill="#5cb4f0"/>
<circle cx="787.3" cy="142.6" r="0.7" fill="#5cb4f0"/>
<circle cx="778.9" cy="134.4" r="0.8" fill="#6cc0f5"/>
<circle cx="787.9" cy="134.1" r="0.8" fill="#8fd2ff"/>
<circle cx="781.8" cy="130.8" r="0.6" fill="#8fd2ff"/>
<circle cx="787.4" cy="134.7" r="0.6" fill="#8fd2ff"/>
<circle cx="783.1" cy="135.6" r="0.7" fill="#b5e2ff"/>
<circle cx="780.5" cy="136.7" r="0.6" fill="#b5e2ff"/>
<circle cx="784.5" cy="132.0" r="0.8" fill="#5cb4f0"/>
<circle cx="780.5" cy="130.3" r="0.5" fill="#6cc0f5"/>
<circle cx="779.3" cy="134.2" r="0.7" fill="#1560a8"/>
<circle cx="786.0" cy="135.9" r="0.6" fill="#1560a8"/>
<circle cx="780.4" cy="133.3" r="0.6" fill="#6cc0f5"/>
<circle cx="776.5" cy="136.2" r="0.6" fill="#6cc0f5"/>
<circle cx="787.2" cy="138.6" r="0.5" fill="#6cc0f5"/>
<circle cx="777.6" cy="135.4" r="0.6" fill="#5cb4f0"/>
<circle cx="783.1" cy="142.5" r="0.8" fill="#1560a8"/>
<circle cx="785.5" cy="141.7" r="0.5" fill="#1560a8"/>
<circle cx="780.6" cy="141.2" r="0.6" fill="#0f4f90"/>
<circle cx="781.5" cy="134.1" r="0.8" fill="#6cc0f5"/>
<circle cx="788.0" cy="132.2" r="0.6" fill="#b5e2ff"/>
<circle cx="791.6" cy="134.7" r="0.6" fill="#6cc0f5"/>
<circle cx="787.4" cy="137.3" r="0.6" fill="#b5e2ff"/>
<circle cx="790.6" cy="133.8" r="0.8" fill="#1560a8"/>
<circle cx="784.7" cy="139.7" r="0.7" fill="#8fd2ff"/>
<circle cx="774.7" cy="133.9" r="0.6" fill="#6cc0f5"/>
<circle cx="777.0" cy="140.1" r="0.6" fill="#1560a8"/>
<circle cx="783.1" cy="141.6" r="0.5" fill="#1560a8"/>
<circle cx="780.7" cy="142.8" r="0.8" fill="#1560a8"/>
<circle cx="790.0" cy="137.8" r="0.8" fill="#6cc0f5"/>
<polygon points="771.2,148.0 769.7,150.1 768.7,152.6 765.4,152.9 762.3,153.8 760.1,151.8 757.7,150.4 757.6,148.0 757.3,145.5 760.1,144.2 762.2,142.0 765.3,143.6 768.8,143.3 769.4,146.0" fill="#2a88d8" stroke="#1d6cb8" stroke-width="0.6" stroke-linejoin="round"/>
<circle cx="770.1" cy="149.4" r="1.7" fill="#2a88d8"/>
<circle cx="768.4" cy="151.6" r="1.5" fill="#2a88d8"/>
<circle cx="763.8" cy="153.0" r="1.5" fill="#2a88d8"/>
<circle cx="760.4" cy="152.1" r="1.6" fill="#2a88d8"/>
<circle cx="757.6" cy="148.0" r="1.6" fill="#2a88d8"/>
<circle cx="758.3" cy="145.8" r="1.6" fill="#2a88d8"/>
<circle cx="761.8" cy="143.4" r="1.3" fill="#2a88d8"/>
<circle cx="766.6" cy="143.5" r="1.5" fill="#2a88d8"/>
<circle cx="769.7" cy="145.7" r="1.7" fill="#2a88d8"/>
<circle cx="769.3" cy="149.0" r="1.1" fill="#3598e8"/>
<circle cx="766.7" cy="149.6" r="1.4" fill="#1f78c8"/>
<circle cx="764.5" cy="150.4" r="1.4" fill="#3598e8"/>
<circle cx="762.2" cy="150.9" r="0.9" fill="#2f90e2"/>
<circle cx="760.7" cy="149.3" r="1.4" fill="#1f78c8"/>
<circle cx="758.9" cy="146.6" r="1.1" fill="#3598e8"/>
<circle cx="759.7" cy="145.5" r="1.3" fill="#3598e8"/>
<circle cx="763.9" cy="145.5" r="1.2" fill="#1f78c8"/>
<circle cx="766.4" cy="145.0" r="1.1" fill="#2f90e2"/>
<circle cx="768.0" cy="146.1" r="1.4" fill="#2f90e2"/>
<circle cx="766.3" cy="143.6" r="0.8" fill="#6cc0f5"/>
<circle cx="762.3" cy="151.0" r="0.8" fill="#b5e2ff"/>
<circle cx="763.1" cy="151.5" r="0.6" fill="#b5e2ff"/>
<circle cx="764.9" cy="151.8" r="0.5" fill="#0f4f90"/>
<circle cx="765.4" cy="143.5" r="0.5" fill="#5cb4f0"/>
<circle cx="768.5" cy="145.9" r="0.5" fill="#0f4f90"/>
<circle cx="761.0" cy="146.2" r="0.8" fill="#0f4f90"/>
<circle cx="766.1" cy="146.3" r="0.6" fill="#5cb4f0"/>
<circle cx="758.8" cy="148.2" r="0.8" fill="#6cc0f5"/>
<circle cx="769.4" cy="149.7" r="0.7" fill="#b5e2ff"/>
<circle cx="767.6" cy="148.4" r="0.7" fill="#1560a8"/>
<circle cx="759.2" cy="145.3" r="0.5" fill="#8fd2ff"/>
<circle cx="758.7" cy="150.3" r="0.7" fill="#b5e2ff"/>
<circle cx="763.3" cy="152.0" r="0.8" fill="#0f4f90"/>
<circle cx="769.3" cy="149.5" r="0.5" fill="#8fd2ff"/>
<circle cx="761.6" cy="150.3" r="0.6" fill="#0f4f90"/>
<circle cx="763.8" cy="148.6" r="0.6" fill="#1560a8"/>
<circle cx="761.2" cy="146.6" r="0.5" fill="#8fd2ff"/>
<circle cx="759.5" cy="148.7" r="0.6" fill="#b5e2ff"/>
<polygon points="809.2,149.0 807.0,151.3 806.2,154.1 802.8,153.9 799.8,155.4 797.7,153.0 795.2,151.6 795.4,149.0 794.8,146.3 797.3,144.5 799.8,142.6 803.0,143.6 805.9,144.3 806.9,146.8" fill="#2a88d8" stroke="#1d6cb8" stroke-width="0.6" stroke-linejoin="round"/>
<circle cx="807.8" cy="149.8" r="1.7" fill="#2a88d8"/>
<circle cx="806.3" cy="152.6" r="1.6" fill="#2a88d8"/>
<circle cx="801.3" cy="154.4" r="1.6" fill="#2a88d8"/>
<circle cx="796.5" cy="152.4" r="1.7" fill="#2a88d8"/>
<circle cx="795.2" cy="149.9" r="1.6" fill="#2a88d8"/>
<circle cx="796.7" cy="145.4" r="1.4" fill="#2a88d8"/>
<circle cx="799.5" cy="143.8" r="1.5" fill="#2a88d8"/>
<circle cx="804.0" cy="144.0" r="1.7" fill="#2a88d8"/>
<circle cx="807.5" cy="147.1" r="1.5" fill="#2a88d8"/>
<circle cx="805.6" cy="149.2" r="1.2" fill="#2f90e2"/>
<circle cx="803.8" cy="151.1" r="1.6" fill="#1f78c8"/>
<circle cx="802.4" cy="153.6" r="1.4" fill="#3598e8"/>
<circle cx="800.6" cy="151.3" r="1.3" fill="#1f78c8"/>
<circle cx="797.9" cy="150.0" r="1.7" fill="#2f90e2"/>
<circle cx="797.5" cy="148.2" r="1.1" fill="#1f78c8"/>
<circle cx="798.5" cy="146.9" r="1.6" fill="#1f78c8"/>
<circle cx="800.9" cy="144.4" r="1.5" fill="#2f90e2"/>
<circle cx="805.0" cy="145.6" r="1.4" fill="#3598e8"/>
<circle cx="805.4" cy="147.0" r="1.2" fill="#3598e8"/>
<circle cx="801.7" cy="152.0" r="0.5" fill="#b5e2ff"/>
<circle cx="795.2" cy="148.2" r="0.5" fill="#5cb4f0"/>
<circle cx="803.6" cy="144.7" r="0.8" fill="#8fd2ff"/>
<circle cx="798.5" cy="152.9" r="0.8" fill="#5cb4f0"/>
<circle cx="797.8" cy="145.5" r="0.8" fill="#6cc0f5"/>
<circle cx="805.0" cy="148.2" r="0.6" fill="#6cc0f5"/>
<circle cx="803.5" cy="153.0" r="0.7" fill="#6cc0f5"/>
<circle cx="806.1" cy="150.1" r="0.6" fill="#6cc0f5"/>
<circle cx="801.4" cy="153.6" r="0.5" fill="#1560a8"/>
<circle cx="800.8" cy="148.2" r="0.7" fill="#0f4f90"/>
<circle cx="806.1" cy="146.8" r="0.5" fill="#5cb4f0"/>
<circle cx="800.2" cy="145.8" r="0.9" fill="#6cc0f5"/>
<circle cx="799.6" cy="143.9" r="0.8" fill="#6cc0f5"/>
<circle cx="799.3" cy="144.1" r="0.6" fill="#8fd2ff"/>
<circle cx="805.7" cy="150.4" r="0.6" fill="#b5e2ff"/>
<circle cx="801.5" cy="150.9" r="0.6" fill="#b5e2ff"/>
<circle cx="799.0" cy="151.3" r="0.5" fill="#b5e2ff"/>
<circle cx="798.4" cy="145.7" r="0.5" fill="#8fd2ff"/>
<circle cx="795.9" cy="149.0" r="0.7" fill="#5cb4f0"/>
<circle cx="797.3" cy="150.2" r="0.5" fill="#b5e2ff"/>
<circle cx="802.3" cy="148.3" r="0.5" fill="#1560a8"/>
<text x="745.5" y="53.9" transform="matrix(1 0 0 1.1 0 -5.39)" font-size="13.65">Virus, ~10<tspan dy="-4.3" font-size="8">-8</tspan><tspan dy="4.3"> m</tspan></text>
<line x1="754.2" y1="62.4" x2="814.4" y2="62.4" stroke="#222" stroke-width="1.3" stroke-dasharray="2.6,1.8"/>
<path d="M749.2,62.4 L754.2,59.699999999999996 L754.2,65.1 z" fill="#111"/>
<path d="M819.4,62.4 L814.4,59.699999999999996 L814.4,65.1 z" fill="#111"/>
<polygon points="863.2,79.8 957.3,134.2 863.2,186.5" stroke="#111" stroke-width="1.5" stroke-dasharray="3.2,2.2" fill="none"/>
<polygon points="783,113 800,124 783,132" stroke="#111" stroke-width="1.5" stroke-dasharray="3.2,2.2" fill="none"/>
<line x1="863.2" y1="79.8" x2="783" y2="113" stroke="#111" stroke-width="1.5" stroke-dasharray="3.2,2.2" fill="none"/>
<line x1="863.2" y1="186.5" x2="783" y2="132" stroke="#111" stroke-width="1.5" stroke-dasharray="3.2,2.2" fill="none"/>
<text x="863.4" y="64.5" transform="matrix(1 0 0 1.1 0 -6.45)" font-size="13.65">Protein,&#160; ~10<tspan dy="-4.3" font-size="8">-9</tspan><tspan dy="4.3"> m</tspan></text>
<line x1="869.3" y1="73.3" x2="951.8" y2="73.3" stroke="#222" stroke-width="1.3" stroke-dasharray="2.6,1.8"/>
<path d="M864.3,73.3 L869.3,70.6 L869.3,76.0 z" fill="#111"/>
<path d="M956.8,73.3 L951.8,70.6 L951.8,76.0 z" fill="#111"/>
<path d="M872,112 C871,106 876,106 877,112 C878,118 881,121 884,116 C887,111 885,108 890,109" fill="none" stroke="#e07a7e" stroke-width="0.9" stroke-linecap="round"/>
<path d="M884,113 C889,106 898,104 905,108 C910,111 912,115 909,121" fill="none" stroke="#e5888b" stroke-width="0.8" stroke-linecap="round"/>
<path d="M883,124 C886,132 896,133 903,128" fill="none" stroke="#d9666b" stroke-width="0.9" stroke-linecap="round"/>
<path d="M900,121 C908,112 920,114 924,123 C927,131 925,141 919,149 C914,154 904,153 899,147" fill="none" stroke="#e58a8d" stroke-width="0.8" stroke-linecap="round"/>
<path d="M923,126 C927,129 928,134 926,137" fill="none" stroke="#e58a8d" stroke-width="0.8" stroke-linecap="round"/>
<path d="M884.0,123.0 Q891.0,118.0 899.0,110.0" fill="none" stroke="#c8222a" stroke-width="1.5" stroke-linecap="round"/>
<path d="M885.0,124.2 Q892.0,119.5 900.0,111.5" fill="none" stroke="#8d1a1e" stroke-width="0.4" stroke-linecap="round"/>
<path d="M886.2,126.1 Q893.2,121.1 901.2,113.1" fill="none" stroke="#c8222a" stroke-width="1.5" stroke-linecap="round"/>
<path d="M887.2,127.3 Q894.2,122.6 902.2,114.6" fill="none" stroke="#8d1a1e" stroke-width="0.4" stroke-linecap="round"/>
<path d="M888.4,129.2 Q895.4,124.2 903.4,116.2" fill="none" stroke="#c8222a" stroke-width="1.5" stroke-linecap="round"/>
<path d="M889.4,130.4 Q896.4,125.7 904.4,117.7" fill="none" stroke="#8d1a1e" stroke-width="0.4" stroke-linecap="round"/>
<path d="M890.6,132.3 Q897.6,127.30000000000001 905.6,119.30000000000001" fill="none" stroke="#c8222a" stroke-width="1.5" stroke-linecap="round"/>
<path d="M891.6,133.5 Q898.6,128.8 906.6,120.80000000000001" fill="none" stroke="#8d1a1e" stroke-width="0.4" stroke-linecap="round"/>
<path d="M892.8,135.4 Q899.8,130.4 907.8,122.4" fill="none" stroke="#c8222a" stroke-width="1.5" stroke-linecap="round"/>
<path d="M893.8,136.6 Q900.8,131.9 908.8,123.9" fill="none" stroke="#8d1a1e" stroke-width="0.4" stroke-linecap="round"/>
<path d="M886,116 L892,120 L888,126" fill="none" stroke="#4a2323" stroke-width="1.0" stroke-linecap="round"/>
<path d="M900.0,152.0 Q903.0,140.0 909.0,127.0" fill="none" stroke="#c41f27" stroke-width="1.5" stroke-linecap="round"/>
<path d="M901.2,152.5 Q904.2,140.5 910.2,127.5" fill="none" stroke="#8d1a1e" stroke-width="0.4" stroke-linecap="round"/>
<path d="M903.6,150.4 Q906.6,138.4 912.6,125.4" fill="none" stroke="#c41f27" stroke-width="1.5" stroke-linecap="round"/>
<path d="M904.8000000000001,150.9 Q907.8000000000001,138.9 913.8000000000001,125.9" fill="none" stroke="#8d1a1e" stroke-width="0.4" stroke-linecap="round"/>
<path d="M907.2,148.8 Q910.2,136.8 916.2,123.80000000000001" fill="none" stroke="#c41f27" stroke-width="1.5" stroke-linecap="round"/>
<path d="M908.4000000000001,149.3 Q911.4000000000001,137.3 917.4000000000001,124.30000000000001" fill="none" stroke="#8d1a1e" stroke-width="0.4" stroke-linecap="round"/>
<path d="M910.8,147.2 Q913.8,135.2 919.8,122.19999999999999" fill="none" stroke="#c41f27" stroke-width="1.5" stroke-linecap="round"/>
<path d="M912.0,147.7 Q915.0,135.7 921.0,122.69999999999999" fill="none" stroke="#8d1a1e" stroke-width="0.4" stroke-linecap="round"/>
<path d="M914.4,145.6 Q917.4,133.6 923.4,120.6" fill="none" stroke="#c41f27" stroke-width="1.5" stroke-linecap="round"/>
<path d="M915.6,146.1 Q918.6,134.1 924.6,121.1" fill="none" stroke="#8d1a1e" stroke-width="0.4" stroke-linecap="round"/>
<path d="M918.0,144.0 Q921.0,132.0 927.0,119.0" fill="none" stroke="#c41f27" stroke-width="1.5" stroke-linecap="round"/>
<path d="M919.2,144.5 Q922.2,132.5 928.2,119.5" fill="none" stroke="#8d1a1e" stroke-width="0.4" stroke-linecap="round"/>
<path d="M898,142 L903,138 L900,134" fill="none" stroke="#4a2323" stroke-width="1.1" stroke-linecap="round"/>
<path d="M905,124 Q913,130 921,142" fill="none" stroke="#a8141b" stroke-width="1.2" stroke-linecap="round"/>
<path d="M910,118 Q918,126 924,136" fill="none" stroke="#b3161d" stroke-width="1.0" stroke-linecap="round"/>
<path d="M902,132 Q909,140 914,150" fill="none" stroke="#a8141b" stroke-width="1.1" stroke-linecap="round"/>
<path d="M870,146 C872,140 876,140 878,145 C880,150 884,151 886,147" fill="none" stroke="#3f7cc0" stroke-width="1.0" stroke-linecap="round"/>
<path d="M878,160 C875,167 880,172 888,169 C895,166 898,160 896,154" fill="none" stroke="#a9c5e6" stroke-width="0.9" stroke-linecap="round"/>
<path d="M880,166 C884,170 890,171 894,167" fill="none" stroke="#b8d0ea" stroke-width="0.9" stroke-linecap="round"/>
<path d="M878.0,137 Q875.0,149 878.0,161" fill="none" stroke="#1f5ea9" stroke-width="1.9" stroke-linecap="round"/>
<path d="M881.8,139 Q878.8,151 881.8,163" fill="none" stroke="#1f5ea9" stroke-width="1.9" stroke-linecap="round"/>
<path d="M885.6,137 Q882.6,149 885.6,161" fill="none" stroke="#1f5ea9" stroke-width="1.9" stroke-linecap="round"/>
<path d="M889.4,139 Q886.4,151 889.4,163" fill="none" stroke="#1f5ea9" stroke-width="1.9" stroke-linecap="round"/>
<path d="M893.2,137 Q890.2,149 893.2,161" fill="none" stroke="#1f5ea9" stroke-width="1.9" stroke-linecap="round"/>
<path d="M876,150 L897,146" fill="none" stroke="#1b4f8f" stroke-width="1.2" stroke-linecap="round"/>
<path d="M878,157 L896,154" fill="none" stroke="#2a66ad" stroke-width="1.1" stroke-linecap="round"/>
<path d="M883,136 C886,133 890,133 893,137" fill="none" stroke="#2b67ae" stroke-width="1.2" stroke-linecap="round"/>
<text x="1008.5" y="19.6" transform="matrix(1 0 0 1.1 0 -1.96)" font-size="13.7">Photon/pixel/frame</text>
<rect x="975.6" y="45.4" width="173.6" height="7.2" fill="url(#cbar)" stroke="#222" stroke-width="0.8"/>
<line x1="975.6" y1="41" x2="975.6" y2="45.4" stroke="#222" stroke-width="1"/>
<text x="967.9" y="39.0" transform="matrix(1 0 0 1.1 0 -3.90)" font-size="13.5">10<tspan dy="-4.3" font-size="8">-4</tspan></text>
<line x1="1033.5" y1="41" x2="1033.5" y2="45.4" stroke="#222" stroke-width="1"/>
<text x="1025.0" y="39.0" transform="matrix(1 0 0 1.1 0 -3.90)" font-size="13.5">10<tspan dy="-4.3" font-size="8">-5</tspan></text>
<line x1="1091.4" y1="41" x2="1091.4" y2="45.4" stroke="#222" stroke-width="1"/>
<text x="1082.0" y="39.0" transform="matrix(1 0 0 1.1 0 -3.90)" font-size="13.5">10<tspan dy="-4.3" font-size="8">-6</tspan></text>
<line x1="1149.2" y1="41" x2="1149.2" y2="45.4" stroke="#222" stroke-width="1"/>
<text x="1139.3" y="39.0" transform="matrix(1 0 0 1.1 0 -3.90)" font-size="13.5">10<tspan dy="-4.3" font-size="8">-7</tspan></text>
<g clip-path="url(#hmclip)"><rect x="975" y="60" width="175" height="345" fill="url(#hmg)"/>
<rect x="1032.4" y="114.1" width="1.2" height="1.2" fill="#fff" opacity="0.27"/>
<rect x="990.2" y="244.7" width="1.2" height="1.2" fill="#fff" opacity="0.20"/>
<rect x="987.7" y="235.0" width="1.2" height="1.2" fill="#fff" opacity="0.13"/>
<rect x="1050.9" y="86.7" width="1.2" height="1.2" fill="#fff" opacity="0.14"/>
<rect x="1049.3" y="343.3" width="1.2" height="1.2" fill="#fff" opacity="0.15"/>
<rect x="1015.5" y="275.7" width="1.2" height="1.2" fill="#fff" opacity="0.34"/>
<rect x="1075.0" y="197.5" width="1.2" height="1.2" fill="#fff" opacity="0.34"/>
<rect x="985.8" y="354.0" width="1.2" height="1.2" fill="#fff" opacity="0.19"/>
<rect x="1002.2" y="102.9" width="1.2" height="1.2" fill="#fff" opacity="0.19"/>
<rect x="1115.1" y="124.3" width="1.2" height="1.2" fill="#fff" opacity="0.25"/>
<rect x="1085.3" y="189.2" width="1.2" height="1.2" fill="#fff" opacity="0.25"/>
<rect x="988.5" y="83.2" width="1.2" height="1.2" fill="#fff" opacity="0.17"/>
<rect x="1092.3" y="208.0" width="1.2" height="1.2" fill="#fff" opacity="0.19"/>
<rect x="1076.4" y="216.6" width="1.2" height="1.2" fill="#fff" opacity="0.19"/>
<rect x="1111.5" y="300.0" width="1.2" height="1.2" fill="#fff" opacity="0.18"/>
<rect x="1074.5" y="241.0" width="1.2" height="1.2" fill="#fff" opacity="0.32"/>
<rect x="1100.5" y="160.6" width="1.2" height="1.2" fill="#fff" opacity="0.35"/>
<rect x="997.8" y="204.7" width="1.2" height="1.2" fill="#fff" opacity="0.29"/>
<rect x="1003.5" y="228.8" width="1.2" height="1.2" fill="#fff" opacity="0.13"/>
<rect x="1090.3" y="322.2" width="1.2" height="1.2" fill="#fff" opacity="0.25"/>
<rect x="1125.1" y="169.4" width="1.2" height="1.2" fill="#fff" opacity="0.28"/>
<rect x="1077.9" y="259.6" width="1.2" height="1.2" fill="#fff" opacity="0.22"/>
<rect x="1119.1" y="383.2" width="1.2" height="1.2" fill="#fff" opacity="0.23"/>
<rect x="1089.6" y="83.6" width="1.2" height="1.2" fill="#fff" opacity="0.28"/>
<rect x="1086.7" y="399.7" width="1.2" height="1.2" fill="#fff" opacity="0.31"/>
<rect x="1025.8" y="193.8" width="1.2" height="1.2" fill="#fff" opacity="0.27"/>
<rect x="981.8" y="219.5" width="1.2" height="1.2" fill="#fff" opacity="0.16"/>
<rect x="997.7" y="83.0" width="1.2" height="1.2" fill="#fff" opacity="0.30"/>
<rect x="999.7" y="146.9" width="1.2" height="1.2" fill="#fff" opacity="0.21"/>
<rect x="1124.4" y="90.3" width="1.2" height="1.2" fill="#fff" opacity="0.22"/>
<rect x="1070.3" y="362.5" width="1.2" height="1.2" fill="#fff" opacity="0.31"/>
<rect x="1123.1" y="157.4" width="1.2" height="1.2" fill="#fff" opacity="0.22"/>
<rect x="1038.3" y="362.7" width="1.2" height="1.2" fill="#fff" opacity="0.34"/>
<rect x="1003.4" y="122.7" width="1.2" height="1.2" fill="#fff" opacity="0.17"/>
<rect x="1017.2" y="227.4" width="1.2" height="1.2" fill="#fff" opacity="0.26"/>
<rect x="1022.1" y="64.4" width="1.2" height="1.2" fill="#fff" opacity="0.22"/>
<rect x="1040.0" y="255.0" width="1.2" height="1.2" fill="#fff" opacity="0.34"/>
<rect x="1094.0" y="237.8" width="1.2" height="1.2" fill="#fff" opacity="0.26"/>
<rect x="1091.6" y="81.3" width="1.2" height="1.2" fill="#fff" opacity="0.33"/>
<rect x="1109.0" y="359.5" width="1.2" height="1.2" fill="#fff" opacity="0.30"/>
<rect x="1043.9" y="198.3" width="1.2" height="1.2" fill="#fff" opacity="0.14"/>
<rect x="1084.6" y="84.1" width="1.2" height="1.2" fill="#fff" opacity="0.14"/>
<rect x="1013.1" y="118.0" width="1.2" height="1.2" fill="#fff" opacity="0.20"/>
<rect x="986.8" y="63.1" width="1.2" height="1.2" fill="#fff" opacity="0.15"/>
<rect x="995.0" y="186.3" width="1.2" height="1.2" fill="#fff" opacity="0.13"/>
<rect x="1124.9" y="271.2" width="1.2" height="1.2" fill="#fff" opacity="0.15"/>
<rect x="1020.4" y="180.8" width="1.2" height="1.2" fill="#fff" opacity="0.20"/>
<rect x="998.6" y="350.8" width="1.2" height="1.2" fill="#fff" opacity="0.35"/>
<rect x="1056.3" y="227.0" width="1.2" height="1.2" fill="#fff" opacity="0.14"/>
<rect x="995.2" y="179.2" width="1.2" height="1.2" fill="#fff" opacity="0.18"/>
<rect x="1117.2" y="117.7" width="1.2" height="1.2" fill="#fff" opacity="0.13"/>
<rect x="1137.8" y="242.1" width="1.2" height="1.2" fill="#fff" opacity="0.15"/>
<rect x="1069.3" y="72.2" width="1.2" height="1.2" fill="#fff" opacity="0.24"/>
<rect x="1142.4" y="355.7" width="1.2" height="1.2" fill="#fff" opacity="0.28"/>
<rect x="1021.9" y="187.3" width="1.2" height="1.2" fill="#fff" opacity="0.16"/>
<rect x="1107.7" y="243.5" width="1.2" height="1.2" fill="#fff" opacity="0.30"/>
<rect x="1033.4" y="138.6" width="1.2" height="1.2" fill="#fff" opacity="0.31"/>
<rect x="1143.5" y="352.0" width="1.2" height="1.2" fill="#fff" opacity="0.31"/>
<rect x="1115.5" y="313.8" width="1.2" height="1.2" fill="#fff" opacity="0.17"/>
<rect x="1065.0" y="183.5" width="1.2" height="1.2" fill="#fff" opacity="0.13"/>
<rect x="982.7" y="157.7" width="1.2" height="1.2" fill="#fff" opacity="0.18"/>
<rect x="1094.3" y="387.3" width="1.2" height="1.2" fill="#fff" opacity="0.22"/>
<rect x="1135.4" y="397.9" width="1.2" height="1.2" fill="#fff" opacity="0.34"/>
<rect x="1039.3" y="137.7" width="1.2" height="1.2" fill="#fff" opacity="0.17"/>
<rect x="1011.0" y="132.3" width="1.2" height="1.2" fill="#fff" opacity="0.26"/>
<rect x="1129.3" y="347.9" width="1.2" height="1.2" fill="#fff" opacity="0.23"/>
<rect x="1087.7" y="334.1" width="1.2" height="1.2" fill="#fff" opacity="0.14"/>
<rect x="1089.0" y="371.4" width="1.2" height="1.2" fill="#fff" opacity="0.30"/>
<rect x="1104.0" y="225.1" width="1.2" height="1.2" fill="#fff" opacity="0.16"/>
<rect x="1110.6" y="175.7" width="1.2" height="1.2" fill="#fff" opacity="0.30"/>
<rect x="1141.2" y="197.2" width="1.2" height="1.2" fill="#fff" opacity="0.21"/>
<rect x="1137.1" y="308.7" width="1.2" height="1.2" fill="#fff" opacity="0.16"/>
<rect x="999.3" y="114.2" width="1.2" height="1.2" fill="#fff" opacity="0.33"/>
<rect x="1113.5" y="112.6" width="1.2" height="1.2" fill="#fff" opacity="0.31"/>
<rect x="1142.7" y="285.8" width="1.2" height="1.2" fill="#fff" opacity="0.20"/>
<rect x="1070.2" y="107.4" width="1.2" height="1.2" fill="#fff" opacity="0.12"/>
<rect x="1141.1" y="283.2" width="1.2" height="1.2" fill="#fff" opacity="0.24"/>
<rect x="1134.8" y="210.1" width="1.2" height="1.2" fill="#fff" opacity="0.32"/>
<rect x="1116.8" y="134.5" width="1.2" height="1.2" fill="#fff" opacity="0.18"/>
<rect x="1027.2" y="144.5" width="1.2" height="1.2" fill="#fff" opacity="0.25"/>
<rect x="1021.6" y="205.0" width="1.2" height="1.2" fill="#fff" opacity="0.15"/>
<rect x="1130.9" y="182.9" width="1.2" height="1.2" fill="#fff" opacity="0.23"/>
<rect x="1076.0" y="369.6" width="1.2" height="1.2" fill="#fff" opacity="0.22"/>
<rect x="1132.2" y="233.1" width="1.2" height="1.2" fill="#fff" opacity="0.24"/>
<rect x="1065.9" y="69.3" width="1.2" height="1.2" fill="#fff" opacity="0.22"/>
<rect x="1008.8" y="64.3" width="1.2" height="1.2" fill="#fff" opacity="0.30"/>
<rect x="1007.0" y="223.5" width="1.2" height="1.2" fill="#fff" opacity="0.29"/>
<rect x="1071.5" y="173.5" width="1.2" height="1.2" fill="#fff" opacity="0.24"/>
<rect x="1071.3" y="328.9" width="1.2" height="1.2" fill="#fff" opacity="0.14"/>
<rect x="1072.1" y="147.2" width="1.2" height="1.2" fill="#fff" opacity="0.18"/>
<rect x="1107.7" y="235.1" width="1.2" height="1.2" fill="#fff" opacity="0.25"/>
<rect x="1105.7" y="372.3" width="1.2" height="1.2" fill="#fff" opacity="0.22"/>
<rect x="1080.9" y="234.4" width="1.2" height="1.2" fill="#fff" opacity="0.24"/>
<rect x="1094.4" y="216.3" width="1.2" height="1.2" fill="#fff" opacity="0.24"/>
<rect x="1058.3" y="382.2" width="1.2" height="1.2" fill="#fff" opacity="0.28"/>
<rect x="1125.3" y="382.4" width="1.2" height="1.2" fill="#fff" opacity="0.18"/>
<rect x="1072.0" y="382.8" width="1.2" height="1.2" fill="#fff" opacity="0.31"/>
<rect x="1001.0" y="104.2" width="1.2" height="1.2" fill="#fff" opacity="0.22"/>
<rect x="990.2" y="144.6" width="1.2" height="1.2" fill="#fff" opacity="0.14"/>
<rect x="1090.5" y="328.8" width="1.2" height="1.2" fill="#fff" opacity="0.33"/>
<rect x="1003.9" y="305.8" width="1.2" height="1.2" fill="#fff" opacity="0.27"/>
<rect x="1002.0" y="362.3" width="1.2" height="1.2" fill="#fff" opacity="0.34"/>
<rect x="1014.9" y="385.9" width="1.2" height="1.2" fill="#fff" opacity="0.21"/>
<rect x="1059.9" y="398.6" width="1.2" height="1.2" fill="#fff" opacity="0.31"/>
<rect x="1005.1" y="209.3" width="1.2" height="1.2" fill="#fff" opacity="0.24"/>
<rect x="1035.0" y="129.4" width="1.2" height="1.2" fill="#fff" opacity="0.19"/>
<rect x="1099.3" y="69.6" width="1.2" height="1.2" fill="#fff" opacity="0.25"/>
<rect x="1052.0" y="69.1" width="1.2" height="1.2" fill="#fff" opacity="0.20"/>
<rect x="1082.8" y="236.7" width="1.2" height="1.2" fill="#fff" opacity="0.13"/>
<rect x="1143.5" y="330.3" width="1.2" height="1.2" fill="#fff" opacity="0.34"/>
<rect x="995.6" y="153.0" width="1.2" height="1.2" fill="#fff" opacity="0.13"/>
<rect x="1108.9" y="154.7" width="1.2" height="1.2" fill="#fff" opacity="0.15"/>
<rect x="1048.9" y="372.0" width="1.2" height="1.2" fill="#fff" opacity="0.31"/>
<rect x="1021.4" y="113.6" width="1.2" height="1.2" fill="#fff" opacity="0.33"/>
<rect x="1073.9" y="300.4" width="1.2" height="1.2" fill="#fff" opacity="0.14"/>
<rect x="987.7" y="296.3" width="1.2" height="1.2" fill="#fff" opacity="0.22"/>
<rect x="990.2" y="381.1" width="1.2" height="1.2" fill="#fff" opacity="0.27"/>
<rect x="1112.7" y="91.4" width="1.2" height="1.2" fill="#fff" opacity="0.32"/>
<rect x="989.2" y="355.5" width="1.2" height="1.2" fill="#fff" opacity="0.22"/>
<rect x="1035.0" y="250.5" width="1.2" height="1.2" fill="#fff" opacity="0.33"/>
<rect x="1023.0" y="106.8" width="1.2" height="1.2" fill="#fff" opacity="0.24"/>
<rect x="1018.1" y="100.1" width="1.2" height="1.2" fill="#fff" opacity="0.16"/>
<rect x="986.5" y="131.4" width="1.2" height="1.2" fill="#fff" opacity="0.19"/>
<rect x="1029.2" y="320.5" width="1.2" height="1.2" fill="#fff" opacity="0.19"/>
<rect x="1062.0" y="123.3" width="1.2" height="1.2" fill="#fff" opacity="0.20"/>
<rect x="981.1" y="147.9" width="1.2" height="1.2" fill="#fff" opacity="0.12"/>
<rect x="1101.2" y="249.8" width="1.2" height="1.2" fill="#fff" opacity="0.16"/>
<rect x="1057.8" y="379.8" width="1.2" height="1.2" fill="#fff" opacity="0.14"/>
<rect x="1115.6" y="209.5" width="1.2" height="1.2" fill="#fff" opacity="0.23"/>
<rect x="1118.2" y="196.3" width="1.2" height="1.2" fill="#fff" opacity="0.24"/>
<rect x="1093.5" y="396.0" width="1.2" height="1.2" fill="#fff" opacity="0.20"/>
<rect x="1117.8" y="302.6" width="1.2" height="1.2" fill="#fff" opacity="0.27"/>
<rect x="1046.0" y="180.8" width="1.2" height="1.2" fill="#fff" opacity="0.13"/>
<rect x="999.8" y="87.0" width="1.2" height="1.2" fill="#fff" opacity="0.29"/>
<rect x="1020.9" y="118.3" width="1.2" height="1.2" fill="#fff" opacity="0.14"/>
<rect x="1119.3" y="358.1" width="1.2" height="1.2" fill="#fff" opacity="0.27"/>
<rect x="1025.4" y="145.1" width="1.2" height="1.2" fill="#fff" opacity="0.19"/>
<rect x="1055.2" y="116.4" width="1.2" height="1.2" fill="#fff" opacity="0.22"/>
<rect x="1022.2" y="389.0" width="1.2" height="1.2" fill="#fff" opacity="0.34"/>
<rect x="1069.9" y="145.9" width="1.2" height="1.2" fill="#fff" opacity="0.34"/>
<rect x="1030.0" y="183.9" width="1.2" height="1.2" fill="#fff" opacity="0.12"/>
<rect x="1042.1" y="223.9" width="1.2" height="1.2" fill="#fff" opacity="0.24"/>
<rect x="1011.8" y="234.1" width="1.2" height="1.2" fill="#fff" opacity="0.12"/>
<rect x="1022.4" y="93.4" width="1.2" height="1.2" fill="#fff" opacity="0.21"/>
<rect x="985.0" y="70.6" width="1.2" height="1.2" fill="#fff" opacity="0.19"/>
<rect x="1017.1" y="261.5" width="1.2" height="1.2" fill="#fff" opacity="0.24"/>
<rect x="1104.1" y="285.9" width="1.2" height="1.2" fill="#fff" opacity="0.28"/>
<rect x="1125.7" y="195.0" width="1.2" height="1.2" fill="#fff" opacity="0.20"/>
<rect x="1143.4" y="113.7" width="1.2" height="1.2" fill="#fff" opacity="0.29"/>
<rect x="1086.1" y="77.8" width="1.2" height="1.2" fill="#fff" opacity="0.31"/>
<rect x="1127.8" y="275.7" width="1.2" height="1.2" fill="#fff" opacity="0.29"/>
<rect x="1114.5" y="110.2" width="1.2" height="1.2" fill="#fff" opacity="0.24"/>
<rect x="1062.7" y="346.0" width="1.2" height="1.2" fill="#fff" opacity="0.31"/>
<rect x="1116.8" y="261.0" width="1.2" height="1.2" fill="#fff" opacity="0.33"/>
<rect x="1092.7" y="298.0" width="1.2" height="1.2" fill="#fff" opacity="0.17"/>
<rect x="983.2" y="108.1" width="1.2" height="1.2" fill="#fff" opacity="0.20"/>
<rect x="995.6" y="346.3" width="1.2" height="1.2" fill="#fff" opacity="0.25"/>
<rect x="1083.5" y="275.3" width="1.2" height="1.2" fill="#fff" opacity="0.28"/>
<rect x="1060.2" y="64.1" width="1.2" height="1.2" fill="#fff" opacity="0.30"/>
<rect x="1103.7" y="233.5" width="1.2" height="1.2" fill="#fff" opacity="0.24"/>
<rect x="1088.8" y="85.4" width="1.2" height="1.2" fill="#fff" opacity="0.29"/>
<rect x="1020.4" y="88.2" width="1.2" height="1.2" fill="#fff" opacity="0.18"/>
<rect x="1100.5" y="132.6" width="1.2" height="1.2" fill="#fff" opacity="0.29"/>
<rect x="1141.9" y="230.4" width="1.2" height="1.2" fill="#fff" opacity="0.21"/>
<rect x="1058.5" y="294.8" width="1.2" height="1.2" fill="#fff" opacity="0.30"/>
<rect x="1081.7" y="280.9" width="1.2" height="1.2" fill="#fff" opacity="0.14"/>
<rect x="1002.8" y="149.1" width="1.2" height="1.2" fill="#fff" opacity="0.29"/>
<rect x="1029.1" y="255.5" width="1.2" height="1.2" fill="#fff" opacity="0.12"/>
<rect x="988.2" y="154.1" width="1.2" height="1.2" fill="#fff" opacity="0.27"/>
<rect x="1094.3" y="292.1" width="1.2" height="1.2" fill="#fff" opacity="0.19"/>
<rect x="1064.8" y="220.5" width="1.2" height="1.2" fill="#fff" opacity="0.23"/>
<rect x="997.9" y="366.0" width="1.2" height="1.2" fill="#fff" opacity="0.17"/>
<rect x="1142.3" y="380.4" width="1.2" height="1.2" fill="#fff" opacity="0.12"/>
<rect x="1055.1" y="340.9" width="1.2" height="1.2" fill="#fff" opacity="0.34"/>
<rect x="1053.5" y="154.1" width="1.2" height="1.2" fill="#fff" opacity="0.17"/>
<rect x="1136.9" y="134.4" width="1.2" height="1.2" fill="#fff" opacity="0.25"/>
<rect x="1001.8" y="240.7" width="1.2" height="1.2" fill="#fff" opacity="0.34"/>
<rect x="1000.3" y="341.1" width="1.2" height="1.2" fill="#fff" opacity="0.24"/>
<rect x="1127.0" y="301.4" width="1.2" height="1.2" fill="#fff" opacity="0.17"/>
<rect x="1128.8" y="227.8" width="1.2" height="1.2" fill="#fff" opacity="0.13"/>
<rect x="978.6" y="229.7" width="1.2" height="1.2" fill="#fff" opacity="0.22"/>
<rect x="1028.7" y="110.7" width="1.2" height="1.2" fill="#fff" opacity="0.20"/>
<rect x="1031.1" y="347.8" width="1.2" height="1.2" fill="#fff" opacity="0.12"/>
<rect x="1104.1" y="347.5" width="1.2" height="1.2" fill="#fff" opacity="0.15"/>
<rect x="1133.6" y="304.7" width="1.2" height="1.2" fill="#fff" opacity="0.33"/>
<rect x="1026.7" y="189.2" width="1.2" height="1.2" fill="#fff" opacity="0.21"/>
<rect x="1145.8" y="262.7" width="1.2" height="1.2" fill="#fff" opacity="0.20"/>
<rect x="1049.9" y="156.3" width="1.2" height="1.2" fill="#fff" opacity="0.13"/>
<rect x="995.1" y="346.0" width="1.2" height="1.2" fill="#fff" opacity="0.19"/>
<rect x="1135.2" y="147.5" width="1.2" height="1.2" fill="#fff" opacity="0.18"/>
<rect x="1063.8" y="127.4" width="1.2" height="1.2" fill="#fff" opacity="0.21"/>
<rect x="1138.6" y="362.8" width="1.2" height="1.2" fill="#fff" opacity="0.31"/>
<rect x="1084.0" y="372.7" width="1.2" height="1.2" fill="#fff" opacity="0.34"/>
<rect x="1070.3" y="306.9" width="1.2" height="1.2" fill="#fff" opacity="0.13"/>
<rect x="1101.0" y="215.8" width="1.2" height="1.2" fill="#fff" opacity="0.29"/>
<rect x="1086.3" y="160.0" width="1.2" height="1.2" fill="#fff" opacity="0.13"/>
<rect x="1133.7" y="106.2" width="1.2" height="1.2" fill="#fff" opacity="0.23"/>
<rect x="1035.7" y="163.9" width="1.2" height="1.2" fill="#fff" opacity="0.29"/>
<rect x="1142.0" y="151.2" width="1.2" height="1.2" fill="#fff" opacity="0.27"/>
<rect x="1028.5" y="251.9" width="1.2" height="1.2" fill="#fff" opacity="0.21"/>
<rect x="1006.1" y="117.8" width="1.2" height="1.2" fill="#fff" opacity="0.17"/>
<rect x="1130.2" y="231.5" width="1.2" height="1.2" fill="#fff" opacity="0.17"/>
<rect x="1130.3" y="400.8" width="1.2" height="1.2" fill="#fff" opacity="0.22"/>
<rect x="1001.5" y="128.2" width="1.2" height="1.2" fill="#fff" opacity="0.14"/>
<rect x="1035.4" y="93.9" width="1.2" height="1.2" fill="#fff" opacity="0.17"/>
<rect x="1021.4" y="256.1" width="1.2" height="1.2" fill="#fff" opacity="0.32"/>
<rect x="1103.9" y="202.9" width="1.2" height="1.2" fill="#fff" opacity="0.22"/>
<rect x="1066.1" y="190.8" width="1.2" height="1.2" fill="#fff" opacity="0.20"/>
<rect x="988.4" y="157.1" width="1.2" height="1.2" fill="#fff" opacity="0.34"/>
<rect x="999.1" y="233.7" width="1.2" height="1.2" fill="#fff" opacity="0.26"/>
<rect x="1123.0" y="136.2" width="1.2" height="1.2" fill="#fff" opacity="0.18"/>
<rect x="1019.7" y="198.5" width="1.2" height="1.2" fill="#fff" opacity="0.22"/>
<rect x="1138.3" y="350.7" width="1.2" height="1.2" fill="#fff" opacity="0.32"/>
<rect x="981.7" y="73.9" width="1.2" height="1.2" fill="#fff" opacity="0.28"/>
<rect x="1128.5" y="223.4" width="1.2" height="1.2" fill="#fff" opacity="0.26"/>
<rect x="978.0" y="195.7" width="1.2" height="1.2" fill="#fff" opacity="0.33"/>
<rect x="1116.7" y="353.0" width="1.2" height="1.2" fill="#fff" opacity="0.34"/>
<rect x="1019.7" y="100.0" width="1.2" height="1.2" fill="#fff" opacity="0.16"/>
<rect x="1065.8" y="294.2" width="1.2" height="1.2" fill="#fff" opacity="0.34"/>
<rect x="1099.3" y="282.5" width="1.2" height="1.2" fill="#fff" opacity="0.30"/>
</g>
<rect x="976.3" y="60.6" width="172.4" height="343.6" fill="none" stroke="#777" stroke-width="1.5"/>
<circle cx="1061" cy="355" r="20.3" fill="#fff"/>
<circle cx="1061" cy="355" r="21.9" fill="none" stroke="#141414" stroke-width="1.6" stroke-dasharray="3.6,2.6"/>
<circle cx="1061" cy="355" r="29.8" fill="none" stroke="#141414" stroke-width="1.6" stroke-dasharray="3.8,2.9"/>
<line x1="1149" y1="355.0" x2="1153" y2="355.0" stroke="#333" stroke-width="1"/>
<text x="1157.7" y="359.3" transform="matrix(1 0 0 1.1 0 -35.93)" font-size="13">0</text>
<line x1="1149" y1="292.8" x2="1153" y2="292.8" stroke="#333" stroke-width="1"/>
<text x="1157.7" y="297.1" transform="matrix(1 0 0 1.1 0 -29.71)" font-size="13">0.1</text>
<line x1="1149" y1="230.6" x2="1153" y2="230.6" stroke="#333" stroke-width="1"/>
<text x="1157.7" y="234.9" transform="matrix(1 0 0 1.1 0 -23.49)" font-size="13">0.2</text>
<line x1="1149" y1="168.4" x2="1153" y2="168.4" stroke="#333" stroke-width="1"/>
<text x="1157.7" y="172.7" transform="matrix(1 0 0 1.1 0 -17.27)" font-size="13">0.3</text>
<line x1="1149" y1="106.2" x2="1153" y2="106.2" stroke="#333" stroke-width="1"/>
<text x="1157.7" y="110.5" transform="matrix(1 0 0 1.1 0 -11.05)" font-size="13">0.4</text>
<line x1="1000.5" y1="405" x2="1000.5" y2="409.5" stroke="#333" stroke-width="1"/>
<text x="1000.5" y="423.4" transform="matrix(1 0 0 1.1 0 -42.34)" font-size="13" text-anchor="middle">-0.1</text>
<line x1="1062.5" y1="405" x2="1062.5" y2="409.5" stroke="#333" stroke-width="1"/>
<text x="1062.5" y="423.4" transform="matrix(1 0 0 1.1 0 -42.34)" font-size="13" text-anchor="middle">0</text>
<line x1="1125.4" y1="405" x2="1125.4" y2="409.5" stroke="#333" stroke-width="1"/>
<text x="1125.4" y="423.4" transform="matrix(1 0 0 1.1 0 -42.34)" font-size="13" text-anchor="middle">0.1</text>
<text x="1061.8" y="441.6" transform="matrix(1 0 0 1.1 0 -44.16)" font-size="13.5" text-anchor="middle">Q<tspan dy="4" font-size="9">y</tspan><tspan dy="-4"> (nm</tspan><tspan dy="-4.3" font-size="8">-1</tspan><tspan dy="4.3">)</tspan></text>
<text transform="translate(1186,232) rotate(90) scale(1,1.1)" font-size="13.5" text-anchor="middle">Q<tspan dy="4" font-size="9">x</tspan><tspan dy="-4"> (nm</tspan><tspan dy="-4.3" font-size="8">-1</tspan><tspan dy="4.3">)</tspan></text>
<path d="M702.4,222V398.3 M709.7,222V398.3 M714.9,222V398.3 M719.0,222V398.3 M722.3,222V398.3 M725.1,222V398.3 M727.5,222V398.3 M729.6,222V398.3 M731.5,222V398.3 M744.1,222V398.3 M751.5,222V398.3 M756.7,222V398.3 M760.7,222V398.3 M764.0,222V398.3 M766.8,222V398.3 M769.3,222V398.3 M771.4,222V398.3 M773.3,222V398.3 M785.9,222V398.3 M793.2,222V398.3 M798.4,222V398.3 M802.5,222V398.3 M805.8,222V398.3 M808.6,222V398.3 M811.0,222V398.3 M813.1,222V398.3 M815.0,222V398.3 M827.6,222V398.3 M835.0,222V398.3 M840.2,222V398.3 M844.2,222V398.3 M847.5,222V398.3 M850.3,222V398.3 M852.8,222V398.3 M854.9,222V398.3 M856.8,222V398.3 M869.4,222V398.3 M876.7,222V398.3 M881.9,222V398.3 M886.0,222V398.3 M889.3,222V398.3 M892.1,222V398.3 M894.5,222V398.3 M896.6,222V398.3 M898.5,222V398.3 M911.1,222V398.3" stroke="#e0e0e0" stroke-width="0.8" stroke-dasharray="3,1.2" fill="none"/>
<path d="M689.8,382.7H918.5 M689.8,328.8H918.5" stroke="#d9d9d9" stroke-width="0.8" stroke-dasharray="2,1.5" fill="none"/>
<path d="M684.6,382.7H689.8 M684.6,328.8H689.8 M684.6,274.8H689.8 M689.8,399.3V403.3 M702.4,399.3V401.5 M709.7,399.3V401.5 M714.9,399.3V401.5 M719.0,399.3V401.5 M722.3,399.3V401.5 M725.1,399.3V401.5 M727.5,399.3V401.5 M729.6,399.3V401.5 M731.5,399.3V403.3 M744.1,399.3V401.5 M751.5,399.3V401.5 M756.7,399.3V401.5 M760.7,399.3V401.5 M764.0,399.3V401.5 M766.8,399.3V401.5 M769.3,399.3V401.5 M771.4,399.3V401.5 M773.3,399.3V403.3 M785.9,399.3V401.5 M793.2,399.3V401.5 M798.4,399.3V401.5 M802.5,399.3V401.5 M805.8,399.3V401.5 M808.6,399.3V401.5 M811.0,399.3V401.5 M813.1,399.3V401.5 M815.0,399.3V403.3 M827.6,399.3V401.5 M835.0,399.3V401.5 M840.2,399.3V401.5 M844.2,399.3V401.5 M847.5,399.3V401.5 M850.3,399.3V401.5 M852.8,399.3V401.5 M854.9,399.3V401.5 M856.8,399.3V403.3 M869.4,399.3V401.5 M876.7,399.3V401.5 M881.9,399.3V401.5 M886.0,399.3V401.5 M889.3,399.3V401.5 M892.1,399.3V401.5 M894.5,399.3V401.5 M896.6,399.3V401.5 M898.5,399.3V403.3 M911.1,399.3V401.5 M918.5,399.3V401.5" stroke="#444" stroke-width="1" fill="none"/>
<text x="678.8" y="387.2" transform="matrix(1 0 0 1.1 0 -38.72)" font-size="13.3" text-anchor="end">0</text>
<text x="678.8" y="333.3" transform="matrix(1 0 0 1.1 0 -33.33)" font-size="13.3" text-anchor="end">0.05</text>
<text x="678.8" y="279.3" transform="matrix(1 0 0 1.1 0 -27.93)" font-size="13.3" text-anchor="end">0.10</text>
<text x="678.8" y="225.3" transform="matrix(1 0 0 1.1 0 -22.53)" font-size="13.3" text-anchor="end">0.15</text>
<text x="681.6" y="419.2" transform="matrix(1 0 0 1.1 0 -41.92)" font-size="13">10<tspan dy="-4.3" font-size="8">1</tspan></text>
<text x="723.3" y="419.2" transform="matrix(1 0 0 1.1 0 -41.92)" font-size="13">10<tspan dy="-4.3" font-size="8">2</tspan></text>
<text x="765.1" y="419.2" transform="matrix(1 0 0 1.1 0 -41.92)" font-size="13">10<tspan dy="-4.3" font-size="8">3</tspan></text>
<text x="806.8" y="419.2" transform="matrix(1 0 0 1.1 0 -41.92)" font-size="13">10<tspan dy="-4.3" font-size="8">4</tspan></text>
<text x="848.6" y="419.2" transform="matrix(1 0 0 1.1 0 -41.92)" font-size="13">10<tspan dy="-4.3" font-size="8">5</tspan></text>
<text x="890.3" y="419.2" transform="matrix(1 0 0 1.1 0 -41.92)" font-size="13">10<tspan dy="-4.3" font-size="8">6</tspan></text>
<text x="794.2" y="436.4" transform="matrix(1 0 0 1.1 0 -43.64)" font-size="13.5" text-anchor="middle">Delay Time τ (μs)</text>
<text transform="translate(643.3,309.3) rotate(-90) scale(1,1.1)" font-size="13" text-anchor="middle">Δg<tspan dy="3" font-size="8.5">2</tspan><tspan dy="-3"> at Q = 0.03 nm</tspan><tspan dy="-4.3" font-size="8">-1</tspan></text>
<path d="M700.8,237.0V263.0 M713.4,295.3V321.3 M720.8,317.6V341.6 M725.7,326.6V352.6 M735.5,337.9V361.9 M738.4,337.2V361.2 M729.8,356.5V382.5 M733.5,358.2V382.2 M742.8,356.5V376.5 M750.9,357.5V375.5 M745.7,367.0V383.0 M748.9,374.4V390.4 M755.0,370.3V384.3 M758.7,379.6V393.6 M761.1,375.7V387.7 M764.3,373.2V385.2 M768.5,378.6V388.6 M770.7,381.0V389.0 M774.0,372.7V382.7 M776.3,377.3V385.3 M780.3,378.7V384.7 M784.0,381.7V387.7 M786.0,374.0V380.0 M789.7,375.7V381.7 M792.7,378.0V384.0 M796.3,375.7V381.7 M799.0,378.7V384.7 M801.3,375.0V381.0 M805.3,379.2V384.2 M808.7,382.5V387.5 M811.3,380.7V384.7 M814.0,378.0V382.0 M817.3,379.7V383.7 M820.7,379.3V383.3 M823.3,380.7V384.7 M826.7,379.7V383.7 M829.3,380.0V384.0 M832.5,380.9V383.9 M835.3,379.5V382.5 M838.4,380.2V383.2 M841.5,381.5V384.5 M844.1,379.8V382.8 M846.7,381.5V384.5 M849.7,379.8V382.8 M852.2,381.1V384.1 M855.0,380.7V383.7 M857.6,381.4V384.4 M860.0,380.4V383.4 M862.8,382.6V385.6 M865.7,382.3V385.3 M868.5,380.2V383.2 M871.1,382.6V385.6 M874.0,380.4V383.4 M876.5,381.0V384.0 M879.4,380.8V383.8 M882.0,381.6V384.6 M885.1,380.1V383.1 M887.6,380.5V383.5 M890.3,381.7V384.7 M892.9,382.0V385.0 M895.9,381.1V384.1 M898.4,382.6V385.6 M901.1,382.1V385.1 M903.7,380.1V383.1" stroke="#ff3030" stroke-width="1" fill="none" opacity="0.85"/>
<path d="M699.0,266.9 L699.7,268.3 L700.4,269.7 L701.1,271.2 L701.8,272.7 L702.5,274.2 L703.2,275.8 L703.9,277.4 L704.6,279.1 L705.3,280.8 L706.0,282.5 L706.7,284.3 L707.4,286.1 L708.1,288.0 L708.8,289.8 L709.5,291.8 L710.2,293.7 L710.9,295.7 L711.6,297.7 L712.3,299.8 L713.0,301.8 L713.7,303.9 L714.4,306.0 L715.1,308.2 L715.8,310.4 L716.5,312.5 L717.2,314.7 L717.9,317.0 L718.6,319.2 L719.3,321.4 L720.0,323.7 L720.7,325.9 L721.4,328.1 L722.1,330.4 L722.8,332.6 L723.5,334.8 L724.2,337.0 L724.9,339.2 L725.7,341.3 L726.4,343.5 L727.1,345.6 L727.8,347.6 L728.5,349.6 L729.2,351.6 L729.9,353.5 L730.6,355.4 L731.3,357.2 L732.0,359.0 L732.7,360.7 L733.4,362.4 L734.1,363.9 L734.8,365.4 L735.5,366.9 L736.2,368.3 L736.9,369.6 L737.6,370.8 L738.3,371.9 L739.0,373.0 L739.7,374.0 L740.4,375.0 L741.1,375.8 L741.8,376.6 L742.5,377.4 L743.2,378.0 L743.9,378.6 L744.6,379.2 L745.3,379.7 L746.0,380.1 L746.7,380.5 L747.4,380.8 L748.1,381.1 L748.8,381.4 L749.5,381.6 L750.2,381.8 L750.9,382.0 L751.6,382.1 L752.3,382.2 L753.0,382.3 L753.7,382.4 L754.4,382.5 L755.1,382.5 L755.8,382.6 L756.5,382.6 L757.2,382.6 L757.9,382.6 L758.6,382.7 L759.3,382.7 L760.0,382.7 L760.7,382.7 L761.4,382.7 L762.1,382.7 L762.8,382.7 L763.5,382.7 L764.2,382.7 L764.9,382.7 L765.6,382.7 L766.3,382.7 L767.0,382.7 L767.7,382.7 L768.4,382.7 L769.1,382.7 L769.8,382.7 L770.5,382.7 L771.2,382.7 L771.9,382.7 L772.6,382.7 L773.3,382.7 L774.0,382.7 L774.7,382.7 L775.4,382.7 L776.1,382.7 L776.8,382.7 L777.5,382.7 L778.3,382.7 L779.0,382.7 L779.7,382.7 L780.4,382.7 L781.1,382.7 L781.8,382.7 L782.5,382.7 L783.2,382.7 L783.9,382.7 L784.6,382.7 L785.3,382.7 L786.0,382.7 L786.7,382.7 L787.4,382.7 L788.1,382.7 L788.8,382.7 L789.5,382.7 L790.2,382.7 L790.9,382.7 L791.6,382.7 L792.3,382.7 L793.0,382.7 L793.7,382.7 L794.4,382.7 L795.1,382.7 L795.8,382.7 L796.5,382.7 L797.2,382.7 L797.9,382.7 L798.6,382.7 L799.3,382.7 L800.0,382.7 L800.7,382.7 L801.4,382.7 L802.1,382.7 L802.8,382.7 L803.5,382.7 L804.2,382.7 L804.9,382.7 L805.6,382.7 L806.3,382.7 L807.0,382.7 L807.7,382.7 L808.4,382.7 L809.1,382.7 L809.8,382.7 L810.5,382.7 L811.2,382.7 L811.9,382.7 L812.6,382.7 L813.3,382.7 L814.0,382.7 L814.7,382.7 L815.4,382.7 L816.1,382.7 L816.8,382.7 L817.5,382.7 L818.2,382.7 L818.9,382.7 L819.6,382.7 L820.3,382.7 L821.0,382.7 L821.7,382.7 L822.4,382.7 L823.1,382.7 L823.8,382.7 L824.5,382.7 L825.2,382.7 L825.9,382.7 L826.6,382.7 L827.3,382.7 L828.0,382.7 L828.7,382.7 L829.4,382.7 L830.2,382.7 L830.9,382.7 L831.6,382.7 L832.3,382.7 L833.0,382.7 L833.7,382.7 L834.4,382.7 L835.1,382.7 L835.8,382.7 L836.5,382.7 L837.2,382.7 L837.9,382.7 L838.6,382.7 L839.3,382.7 L840.0,382.7 L840.7,382.7 L841.4,382.7 L842.1,382.7 L842.8,382.7 L843.5,382.7 L844.2,382.7 L844.9,382.7 L845.6,382.7 L846.3,382.7 L847.0,382.7 L847.7,382.7 L848.4,382.7 L849.1,382.7 L849.8,382.7 L850.5,382.7 L851.2,382.7 L851.9,382.7 L852.6,382.7 L853.3,382.7 L854.0,382.7 L854.7,382.7 L855.4,382.7 L856.1,382.7 L856.8,382.7 L857.5,382.7 L858.2,382.7 L858.9,382.7 L859.6,382.7 L860.3,382.7 L861.0,382.7 L861.7,382.7 L862.4,382.7 L863.1,382.7 L863.8,382.7 L864.5,382.7 L865.2,382.7 L865.9,382.7 L866.6,382.7 L867.3,382.7 L868.0,382.7 L868.7,382.7 L869.4,382.7 L870.1,382.7 L870.8,382.7 L871.5,382.7 L872.2,382.7 L872.9,382.7 L873.6,382.7 L874.3,382.7 L875.0,382.7 L875.7,382.7 L876.4,382.7 L877.1,382.7 L877.8,382.7 L878.5,382.7 L879.2,382.7 L879.9,382.7 L880.6,382.7 L881.3,382.7 L882.0,382.7 L882.8,382.7 L883.5,382.7 L884.2,382.7 L884.9,382.7 L885.6,382.7 L886.3,382.7 L887.0,382.7 L887.7,382.7 L888.4,382.7 L889.1,382.7 L889.8,382.7 L890.5,382.7 L891.2,382.7 L891.9,382.7 L892.6,382.7 L893.3,382.7 L894.0,382.7 L894.7,382.7 L895.4,382.7 L896.1,382.7 L896.8,382.7 L897.5,382.7 L898.2,382.7 L898.9,382.7 L899.6,382.7 L900.3,382.7 L901.0,382.7 L901.7,382.7 L902.4,382.7 L903.1,382.7 L903.8,382.7 L904.5,382.7 L905.2,382.7 L905.9,382.7 L906.6,382.7 L907.3,382.7 L908.0,382.7 L908.7,382.7" stroke="#1414ff" stroke-width="1.7" fill="none"/>
<g fill="none" stroke="#ff1a1a" stroke-width="1.15"><circle cx="700.8" cy="250.0" r="2.7"/><circle cx="713.4" cy="308.3" r="2.7"/><circle cx="720.8" cy="329.6" r="2.7"/><circle cx="725.7" cy="339.6" r="2.7"/><circle cx="735.5" cy="349.9" r="2.7"/><circle cx="738.4" cy="349.2" r="2.7"/><circle cx="729.8" cy="369.5" r="2.7"/><circle cx="733.5" cy="370.2" r="2.7"/><circle cx="742.8" cy="366.5" r="2.7"/><circle cx="750.9" cy="366.5" r="2.7"/><circle cx="745.7" cy="375.0" r="2.7"/><circle cx="748.9" cy="382.4" r="2.7"/><circle cx="755.0" cy="377.3" r="2.7"/><circle cx="758.7" cy="386.6" r="2.7"/><circle cx="761.1" cy="381.7" r="2.7"/><circle cx="764.3" cy="379.2" r="2.7"/><circle cx="768.5" cy="383.6" r="2.7"/><circle cx="770.7" cy="385.0" r="2.7"/><circle cx="774.0" cy="377.7" r="2.7"/><circle cx="776.3" cy="381.3" r="2.7"/><circle cx="780.3" cy="381.7" r="2.7"/><circle cx="784.0" cy="384.7" r="2.7"/><circle cx="786.0" cy="377.0" r="2.7"/><circle cx="789.7" cy="378.7" r="2.7"/><circle cx="792.7" cy="381.0" r="2.7"/><circle cx="796.3" cy="378.7" r="2.7"/><circle cx="799.0" cy="381.7" r="2.7"/><circle cx="801.3" cy="378.0" r="2.7"/><circle cx="805.3" cy="381.7" r="2.7"/><circle cx="808.7" cy="385.0" r="2.7"/><circle cx="811.3" cy="382.7" r="2.7"/><circle cx="814.0" cy="380.0" r="2.7"/><circle cx="817.3" cy="381.7" r="2.7"/><circle cx="820.7" cy="381.3" r="2.7"/><circle cx="823.3" cy="382.7" r="2.7"/><circle cx="826.7" cy="381.7" r="2.7"/><circle cx="829.3" cy="382.0" r="2.7"/><circle cx="832.5" cy="382.4" r="2.3"/><circle cx="835.3" cy="381.0" r="2.3"/><circle cx="838.4" cy="381.7" r="2.3"/><circle cx="841.5" cy="383.0" r="2.3"/><circle cx="844.1" cy="381.3" r="2.3"/><circle cx="846.7" cy="383.0" r="2.3"/><circle cx="849.7" cy="381.3" r="2.3"/><circle cx="852.2" cy="382.6" r="2.3"/><circle cx="855.0" cy="382.2" r="2.3"/><circle cx="857.6" cy="382.9" r="2.3"/><circle cx="860.0" cy="381.9" r="2.3"/><circle cx="862.8" cy="384.1" r="2.3"/><circle cx="865.7" cy="383.8" r="2.3"/><circle cx="868.5" cy="381.7" r="2.3"/><circle cx="871.1" cy="384.1" r="2.3"/><circle cx="874.0" cy="381.9" r="2.3"/><circle cx="876.5" cy="382.5" r="2.3"/><circle cx="879.4" cy="382.3" r="2.3"/><circle cx="882.0" cy="383.1" r="2.3"/><circle cx="885.1" cy="381.6" r="2.3"/><circle cx="887.6" cy="382.0" r="2.3"/><circle cx="890.3" cy="383.2" r="2.3"/><circle cx="892.9" cy="383.5" r="2.3"/><circle cx="895.9" cy="382.6" r="2.3"/><circle cx="898.4" cy="384.1" r="2.3"/><circle cx="901.1" cy="383.6" r="2.3"/><circle cx="903.7" cy="381.6" r="2.3"/></g>
<rect x="689.8" y="221" width="228.7" height="178.3" fill="none" stroke="#555" stroke-width="1.3"/>
<rect x="771.3" y="230.5" width="137.9" height="97.8" fill="#fff"/>
<path d="M771.3,307.8H909.2 M771.3,296.1H909.2 M771.3,287.8H909.2 M771.3,281.3H909.2 M771.3,276.1H909.2 M771.3,271.6H909.2 M771.3,267.8H909.2 M771.3,264.4H909.2 M771.3,261.3H909.2 M771.3,241.3H909.2 M791.3,230.5V328.3 M817.4,230.5V328.3 M837.7,230.5V328.3 M854.2,230.5V328.3 M868.2,230.5V328.3 M880.3,230.5V328.3 M891.0,230.5V328.3 M900.6,230.5V328.3" stroke="#dedede" stroke-width="0.8" stroke-dasharray="2.5,1.2" fill="none"/>
<path d="M768.0999999999999,307.8H771.3 M769.5,296.1H771.3 M769.5,287.8H771.3 M769.5,281.3H771.3 M769.5,276.1H771.3 M769.5,271.6H771.3 M769.5,267.8H771.3 M769.5,264.4H771.3 M769.5,261.3H771.3 M768.0999999999999,241.3H771.3 M791.3,328.3V332.6 M817.4,328.3V330.5 M837.7,328.3V332.6 M854.2,328.3V330.5 M868.2,328.3V330.5 M880.3,328.3V330.5 M900.6,328.3V332.6" stroke="#444" stroke-width="1" fill="none"/>
<text x="765.6" y="246.3" transform="matrix(1 0 0 1.1 0 -24.63)" font-size="13" text-anchor="end">100</text>
<text x="765.6" y="312.8" transform="matrix(1 0 0 1.1 0 -31.28)" font-size="13" text-anchor="end">10</text>
<text x="790.3" y="348.0" transform="matrix(1 0 0 1.1 0 -34.80)" font-size="13" text-anchor="middle">0.03</text>
<text x="836.7" y="348.0" transform="matrix(1 0 0 1.1 0 -34.80)" font-size="13" text-anchor="middle">0.05</text>
<text x="899.6" y="348.0" transform="matrix(1 0 0 1.1 0 -34.80)" font-size="13" text-anchor="middle">0.1</text>
<text x="838.3" y="362.9" transform="matrix(1 0 0 1.1 0 -36.29)" font-size="13.5" text-anchor="middle">Q (nm<tspan dy="-4.3" font-size="8">-1</tspan><tspan dy="4.3">)</tspan></text>
<text transform="translate(740,281.2) rotate(-90) scale(1,1.1)" font-size="13.5" text-anchor="middle">τ<tspan dy="2.5" font-size="8.5">0</tspan><tspan dy="-2.5"> (Q) (μs)</tspan></text>
<text x="818.7" y="249.4" transform="matrix(1 0 0 1.1 0 -24.94)" font-size="13.5">τ<tspan dy="2.5" font-size="8.5">0</tspan><tspan dy="-2.5">(Q) = 1/(DQ</tspan><tspan dy="-4.3" font-size="8">2</tspan><tspan dy="4.3">)</tspan></text>
<line x1="783.5" y1="245.3" x2="891.2" y2="312" stroke="#ff2020" stroke-width="1.5" stroke-dasharray="4,2.5"/>
<path d="M784.5,243.6V256.6 M793.3,246.7V262.7 M802.7,256.5V264.5 M812.8,261.0V267.0 M822.7,265.0V271.0 M832.5,271.7V278.7 M842.1,270.8V283.8 M852,281.0V294.0 M862.1,288.8V296.8 M872,288.8V296.8 M881.6,292.5V299.5 M891.2,302.0V316.6" stroke="#ff3030" stroke-width="1" fill="none"/>
<g fill="none" stroke="#ff2a2a" stroke-width="1.0"><circle cx="784.5" cy="250.1" r="2.8"/><circle cx="793.3" cy="254.7" r="2.8"/><circle cx="802.7" cy="260.5" r="2.8"/><circle cx="812.8" cy="264" r="2.8"/><circle cx="822.7" cy="268" r="2.8"/><circle cx="832.5" cy="275.2" r="2.8"/><circle cx="842.1" cy="277.3" r="2.8"/><circle cx="852" cy="287.5" r="2.8"/><circle cx="862.1" cy="292.8" r="2.8"/><circle cx="872" cy="292.8" r="2.8"/><circle cx="881.6" cy="296" r="2.8"/><circle cx="891.2" cy="309.3" r="2.8"/></g>
<rect x="771.3" y="230.5" width="137.9" height="97.8" fill="none" stroke="#444" stroke-width="1.3"/>
</svg></body></html>
